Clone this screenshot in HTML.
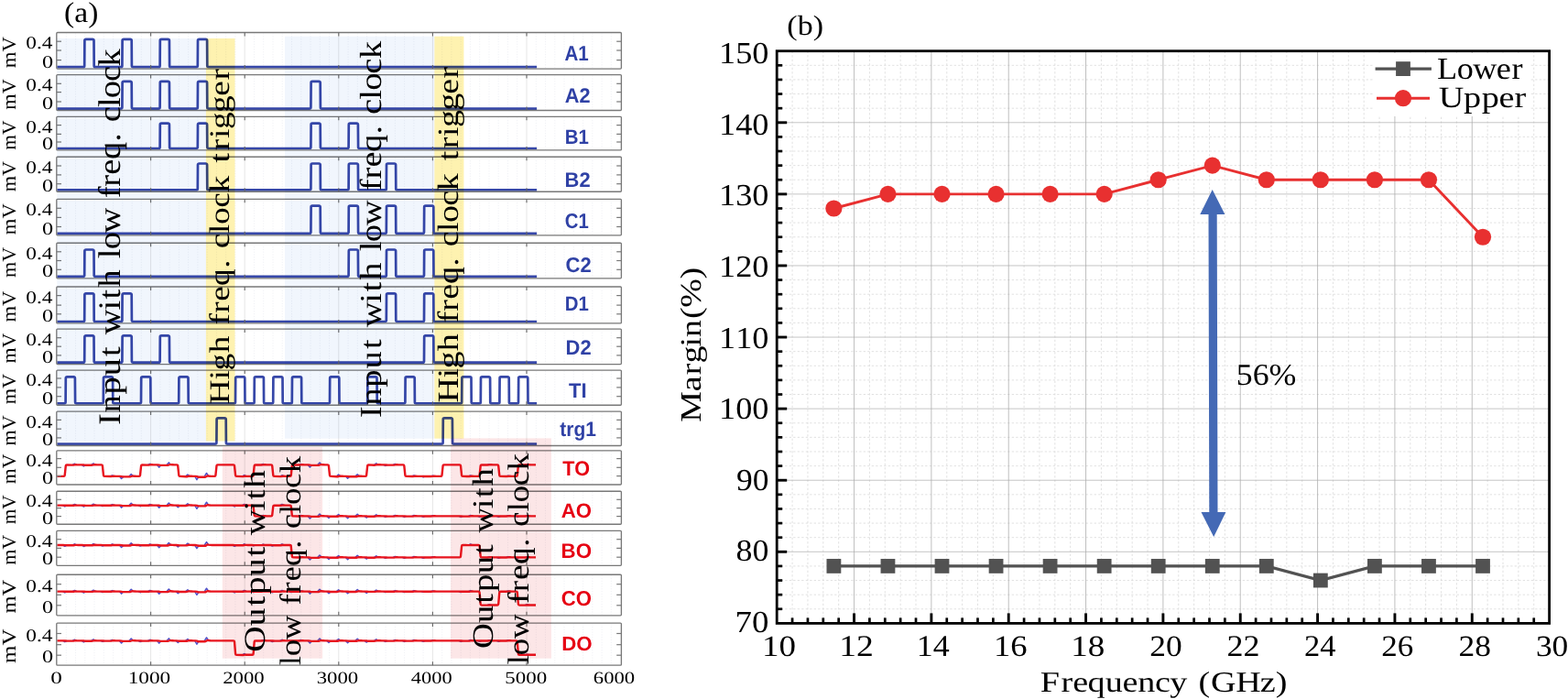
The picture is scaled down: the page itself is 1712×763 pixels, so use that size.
<!DOCTYPE html>
<html><head><meta charset="utf-8"><title>Figure</title>
<style>html,body{margin:0;padding:0;background:#fff}svg{display:block}text{font-kerning:none;white-space:pre;text-rendering:geometricPrecision}</style>
</head><body>
<svg width="1712" height="763" viewBox="0 0 1712 763">
<rect width="1712" height="763" fill="#fff"/>
<rect x="61.80" y="35.50" width="616.60" height="39.60" fill="#fff" />
<path d="M72.3,36.5V74.1M82.5,36.5V74.1M92.8,36.5V74.1M103.0,36.5V74.1M113.3,36.5V74.1M123.6,36.5V74.1M133.8,36.5V74.1M144.1,36.5V74.1M154.3,36.5V74.1M174.9,36.5V74.1M185.1,36.5V74.1M195.4,36.5V74.1M205.6,36.5V74.1M215.9,36.5V74.1M226.2,36.5V74.1M236.4,36.5V74.1M246.7,36.5V74.1M256.9,36.5V74.1M277.5,36.5V74.1M287.7,36.5V74.1M298.0,36.5V74.1M308.2,36.5V74.1M318.5,36.5V74.1M328.8,36.5V74.1M339.0,36.5V74.1M349.3,36.5V74.1M359.5,36.5V74.1M380.1,36.5V74.1M390.3,36.5V74.1M400.6,36.5V74.1M410.8,36.5V74.1M421.1,36.5V74.1M431.4,36.5V74.1M441.6,36.5V74.1M451.9,36.5V74.1M462.1,36.5V74.1M482.7,36.5V74.1M492.9,36.5V74.1M503.2,36.5V74.1M513.4,36.5V74.1M523.7,36.5V74.1M534.0,36.5V74.1M544.2,36.5V74.1M554.5,36.5V74.1M564.7,36.5V74.1M585.3,36.5V74.1M595.5,36.5V74.1M605.8,36.5V74.1M616.0,36.5V74.1M626.3,36.5V74.1M636.6,36.5V74.1M646.8,36.5V74.1M657.1,36.5V74.1M667.3,36.5V74.1" stroke="#eceef3" stroke-width="0.8" stroke-dasharray="1.2 1.6" fill="none"/>
<path d="M164.6,36.5V74.1M267.2,36.5V74.1M369.8,36.5V74.1M472.4,36.5V74.1M575.0,36.5V74.1" stroke="#e6e6e6" stroke-width="1" fill="none"/>
<rect x="61.80" y="81.60" width="616.60" height="38.90" fill="#fff" />
<path d="M72.3,82.6V119.5M82.5,82.6V119.5M92.8,82.6V119.5M103.0,82.6V119.5M113.3,82.6V119.5M123.6,82.6V119.5M133.8,82.6V119.5M144.1,82.6V119.5M154.3,82.6V119.5M174.9,82.6V119.5M185.1,82.6V119.5M195.4,82.6V119.5M205.6,82.6V119.5M215.9,82.6V119.5M226.2,82.6V119.5M236.4,82.6V119.5M246.7,82.6V119.5M256.9,82.6V119.5M277.5,82.6V119.5M287.7,82.6V119.5M298.0,82.6V119.5M308.2,82.6V119.5M318.5,82.6V119.5M328.8,82.6V119.5M339.0,82.6V119.5M349.3,82.6V119.5M359.5,82.6V119.5M380.1,82.6V119.5M390.3,82.6V119.5M400.6,82.6V119.5M410.8,82.6V119.5M421.1,82.6V119.5M431.4,82.6V119.5M441.6,82.6V119.5M451.9,82.6V119.5M462.1,82.6V119.5M482.7,82.6V119.5M492.9,82.6V119.5M503.2,82.6V119.5M513.4,82.6V119.5M523.7,82.6V119.5M534.0,82.6V119.5M544.2,82.6V119.5M554.5,82.6V119.5M564.7,82.6V119.5M585.3,82.6V119.5M595.5,82.6V119.5M605.8,82.6V119.5M616.0,82.6V119.5M626.3,82.6V119.5M636.6,82.6V119.5M646.8,82.6V119.5M657.1,82.6V119.5M667.3,82.6V119.5" stroke="#eceef3" stroke-width="0.8" stroke-dasharray="1.2 1.6" fill="none"/>
<path d="M164.6,82.6V119.5M267.2,82.6V119.5M369.8,82.6V119.5M472.4,82.6V119.5M575.0,82.6V119.5" stroke="#e6e6e6" stroke-width="1" fill="none"/>
<rect x="61.80" y="127.30" width="616.60" height="36.60" fill="#fff" />
<path d="M72.3,128.3V162.9M82.5,128.3V162.9M92.8,128.3V162.9M103.0,128.3V162.9M113.3,128.3V162.9M123.6,128.3V162.9M133.8,128.3V162.9M144.1,128.3V162.9M154.3,128.3V162.9M174.9,128.3V162.9M185.1,128.3V162.9M195.4,128.3V162.9M205.6,128.3V162.9M215.9,128.3V162.9M226.2,128.3V162.9M236.4,128.3V162.9M246.7,128.3V162.9M256.9,128.3V162.9M277.5,128.3V162.9M287.7,128.3V162.9M298.0,128.3V162.9M308.2,128.3V162.9M318.5,128.3V162.9M328.8,128.3V162.9M339.0,128.3V162.9M349.3,128.3V162.9M359.5,128.3V162.9M380.1,128.3V162.9M390.3,128.3V162.9M400.6,128.3V162.9M410.8,128.3V162.9M421.1,128.3V162.9M431.4,128.3V162.9M441.6,128.3V162.9M451.9,128.3V162.9M462.1,128.3V162.9M482.7,128.3V162.9M492.9,128.3V162.9M503.2,128.3V162.9M513.4,128.3V162.9M523.7,128.3V162.9M534.0,128.3V162.9M544.2,128.3V162.9M554.5,128.3V162.9M564.7,128.3V162.9M585.3,128.3V162.9M595.5,128.3V162.9M605.8,128.3V162.9M616.0,128.3V162.9M626.3,128.3V162.9M636.6,128.3V162.9M646.8,128.3V162.9M657.1,128.3V162.9M667.3,128.3V162.9" stroke="#eceef3" stroke-width="0.8" stroke-dasharray="1.2 1.6" fill="none"/>
<path d="M164.6,128.3V162.9M267.2,128.3V162.9M369.8,128.3V162.9M472.4,128.3V162.9M575.0,128.3V162.9" stroke="#e6e6e6" stroke-width="1" fill="none"/>
<rect x="61.80" y="171.20" width="616.60" height="38.10" fill="#fff" />
<path d="M72.3,172.2V208.3M82.5,172.2V208.3M92.8,172.2V208.3M103.0,172.2V208.3M113.3,172.2V208.3M123.6,172.2V208.3M133.8,172.2V208.3M144.1,172.2V208.3M154.3,172.2V208.3M174.9,172.2V208.3M185.1,172.2V208.3M195.4,172.2V208.3M205.6,172.2V208.3M215.9,172.2V208.3M226.2,172.2V208.3M236.4,172.2V208.3M246.7,172.2V208.3M256.9,172.2V208.3M277.5,172.2V208.3M287.7,172.2V208.3M298.0,172.2V208.3M308.2,172.2V208.3M318.5,172.2V208.3M328.8,172.2V208.3M339.0,172.2V208.3M349.3,172.2V208.3M359.5,172.2V208.3M380.1,172.2V208.3M390.3,172.2V208.3M400.6,172.2V208.3M410.8,172.2V208.3M421.1,172.2V208.3M431.4,172.2V208.3M441.6,172.2V208.3M451.9,172.2V208.3M462.1,172.2V208.3M482.7,172.2V208.3M492.9,172.2V208.3M503.2,172.2V208.3M513.4,172.2V208.3M523.7,172.2V208.3M534.0,172.2V208.3M544.2,172.2V208.3M554.5,172.2V208.3M564.7,172.2V208.3M585.3,172.2V208.3M595.5,172.2V208.3M605.8,172.2V208.3M616.0,172.2V208.3M626.3,172.2V208.3M636.6,172.2V208.3M646.8,172.2V208.3M657.1,172.2V208.3M667.3,172.2V208.3" stroke="#eceef3" stroke-width="0.8" stroke-dasharray="1.2 1.6" fill="none"/>
<path d="M164.6,172.2V208.3M267.2,172.2V208.3M369.8,172.2V208.3M472.4,172.2V208.3M575.0,172.2V208.3" stroke="#e6e6e6" stroke-width="1" fill="none"/>
<rect x="61.80" y="217.30" width="616.60" height="39.50" fill="#fff" />
<path d="M72.3,218.3V255.8M82.5,218.3V255.8M92.8,218.3V255.8M103.0,218.3V255.8M113.3,218.3V255.8M123.6,218.3V255.8M133.8,218.3V255.8M144.1,218.3V255.8M154.3,218.3V255.8M174.9,218.3V255.8M185.1,218.3V255.8M195.4,218.3V255.8M205.6,218.3V255.8M215.9,218.3V255.8M226.2,218.3V255.8M236.4,218.3V255.8M246.7,218.3V255.8M256.9,218.3V255.8M277.5,218.3V255.8M287.7,218.3V255.8M298.0,218.3V255.8M308.2,218.3V255.8M318.5,218.3V255.8M328.8,218.3V255.8M339.0,218.3V255.8M349.3,218.3V255.8M359.5,218.3V255.8M380.1,218.3V255.8M390.3,218.3V255.8M400.6,218.3V255.8M410.8,218.3V255.8M421.1,218.3V255.8M431.4,218.3V255.8M441.6,218.3V255.8M451.9,218.3V255.8M462.1,218.3V255.8M482.7,218.3V255.8M492.9,218.3V255.8M503.2,218.3V255.8M513.4,218.3V255.8M523.7,218.3V255.8M534.0,218.3V255.8M544.2,218.3V255.8M554.5,218.3V255.8M564.7,218.3V255.8M585.3,218.3V255.8M595.5,218.3V255.8M605.8,218.3V255.8M616.0,218.3V255.8M626.3,218.3V255.8M636.6,218.3V255.8M646.8,218.3V255.8M657.1,218.3V255.8M667.3,218.3V255.8" stroke="#eceef3" stroke-width="0.8" stroke-dasharray="1.2 1.6" fill="none"/>
<path d="M164.6,218.3V255.8M267.2,218.3V255.8M369.8,218.3V255.8M472.4,218.3V255.8M575.0,218.3V255.8" stroke="#e6e6e6" stroke-width="1" fill="none"/>
<rect x="61.80" y="265.20" width="616.60" height="38.60" fill="#fff" />
<path d="M72.3,266.2V302.8M82.5,266.2V302.8M92.8,266.2V302.8M103.0,266.2V302.8M113.3,266.2V302.8M123.6,266.2V302.8M133.8,266.2V302.8M144.1,266.2V302.8M154.3,266.2V302.8M174.9,266.2V302.8M185.1,266.2V302.8M195.4,266.2V302.8M205.6,266.2V302.8M215.9,266.2V302.8M226.2,266.2V302.8M236.4,266.2V302.8M246.7,266.2V302.8M256.9,266.2V302.8M277.5,266.2V302.8M287.7,266.2V302.8M298.0,266.2V302.8M308.2,266.2V302.8M318.5,266.2V302.8M328.8,266.2V302.8M339.0,266.2V302.8M349.3,266.2V302.8M359.5,266.2V302.8M380.1,266.2V302.8M390.3,266.2V302.8M400.6,266.2V302.8M410.8,266.2V302.8M421.1,266.2V302.8M431.4,266.2V302.8M441.6,266.2V302.8M451.9,266.2V302.8M462.1,266.2V302.8M482.7,266.2V302.8M492.9,266.2V302.8M503.2,266.2V302.8M513.4,266.2V302.8M523.7,266.2V302.8M534.0,266.2V302.8M544.2,266.2V302.8M554.5,266.2V302.8M564.7,266.2V302.8M585.3,266.2V302.8M595.5,266.2V302.8M605.8,266.2V302.8M616.0,266.2V302.8M626.3,266.2V302.8M636.6,266.2V302.8M646.8,266.2V302.8M657.1,266.2V302.8M667.3,266.2V302.8" stroke="#eceef3" stroke-width="0.8" stroke-dasharray="1.2 1.6" fill="none"/>
<path d="M164.6,266.2V302.8M267.2,266.2V302.8M369.8,266.2V302.8M472.4,266.2V302.8M575.0,266.2V302.8" stroke="#e6e6e6" stroke-width="1" fill="none"/>
<rect x="61.80" y="313.00" width="616.60" height="39.90" fill="#fff" />
<path d="M72.3,314.0V351.9M82.5,314.0V351.9M92.8,314.0V351.9M103.0,314.0V351.9M113.3,314.0V351.9M123.6,314.0V351.9M133.8,314.0V351.9M144.1,314.0V351.9M154.3,314.0V351.9M174.9,314.0V351.9M185.1,314.0V351.9M195.4,314.0V351.9M205.6,314.0V351.9M215.9,314.0V351.9M226.2,314.0V351.9M236.4,314.0V351.9M246.7,314.0V351.9M256.9,314.0V351.9M277.5,314.0V351.9M287.7,314.0V351.9M298.0,314.0V351.9M308.2,314.0V351.9M318.5,314.0V351.9M328.8,314.0V351.9M339.0,314.0V351.9M349.3,314.0V351.9M359.5,314.0V351.9M380.1,314.0V351.9M390.3,314.0V351.9M400.6,314.0V351.9M410.8,314.0V351.9M421.1,314.0V351.9M431.4,314.0V351.9M441.6,314.0V351.9M451.9,314.0V351.9M462.1,314.0V351.9M482.7,314.0V351.9M492.9,314.0V351.9M503.2,314.0V351.9M513.4,314.0V351.9M523.7,314.0V351.9M534.0,314.0V351.9M544.2,314.0V351.9M554.5,314.0V351.9M564.7,314.0V351.9M585.3,314.0V351.9M595.5,314.0V351.9M605.8,314.0V351.9M616.0,314.0V351.9M626.3,314.0V351.9M636.6,314.0V351.9M646.8,314.0V351.9M657.1,314.0V351.9M667.3,314.0V351.9" stroke="#eceef3" stroke-width="0.8" stroke-dasharray="1.2 1.6" fill="none"/>
<path d="M164.6,314.0V351.9M267.2,314.0V351.9M369.8,314.0V351.9M472.4,314.0V351.9M575.0,314.0V351.9" stroke="#e6e6e6" stroke-width="1" fill="none"/>
<rect x="61.80" y="359.10" width="616.60" height="38.50" fill="#fff" />
<path d="M72.3,360.1V396.6M82.5,360.1V396.6M92.8,360.1V396.6M103.0,360.1V396.6M113.3,360.1V396.6M123.6,360.1V396.6M133.8,360.1V396.6M144.1,360.1V396.6M154.3,360.1V396.6M174.9,360.1V396.6M185.1,360.1V396.6M195.4,360.1V396.6M205.6,360.1V396.6M215.9,360.1V396.6M226.2,360.1V396.6M236.4,360.1V396.6M246.7,360.1V396.6M256.9,360.1V396.6M277.5,360.1V396.6M287.7,360.1V396.6M298.0,360.1V396.6M308.2,360.1V396.6M318.5,360.1V396.6M328.8,360.1V396.6M339.0,360.1V396.6M349.3,360.1V396.6M359.5,360.1V396.6M380.1,360.1V396.6M390.3,360.1V396.6M400.6,360.1V396.6M410.8,360.1V396.6M421.1,360.1V396.6M431.4,360.1V396.6M441.6,360.1V396.6M451.9,360.1V396.6M462.1,360.1V396.6M482.7,360.1V396.6M492.9,360.1V396.6M503.2,360.1V396.6M513.4,360.1V396.6M523.7,360.1V396.6M534.0,360.1V396.6M544.2,360.1V396.6M554.5,360.1V396.6M564.7,360.1V396.6M585.3,360.1V396.6M595.5,360.1V396.6M605.8,360.1V396.6M616.0,360.1V396.6M626.3,360.1V396.6M636.6,360.1V396.6M646.8,360.1V396.6M657.1,360.1V396.6M667.3,360.1V396.6" stroke="#eceef3" stroke-width="0.8" stroke-dasharray="1.2 1.6" fill="none"/>
<path d="M164.6,360.1V396.6M267.2,360.1V396.6M369.8,360.1V396.6M472.4,360.1V396.6M575.0,360.1V396.6" stroke="#e6e6e6" stroke-width="1" fill="none"/>
<rect x="61.80" y="404.10" width="616.60" height="38.10" fill="#fff" />
<path d="M72.3,405.1V441.2M82.5,405.1V441.2M92.8,405.1V441.2M103.0,405.1V441.2M113.3,405.1V441.2M123.6,405.1V441.2M133.8,405.1V441.2M144.1,405.1V441.2M154.3,405.1V441.2M174.9,405.1V441.2M185.1,405.1V441.2M195.4,405.1V441.2M205.6,405.1V441.2M215.9,405.1V441.2M226.2,405.1V441.2M236.4,405.1V441.2M246.7,405.1V441.2M256.9,405.1V441.2M277.5,405.1V441.2M287.7,405.1V441.2M298.0,405.1V441.2M308.2,405.1V441.2M318.5,405.1V441.2M328.8,405.1V441.2M339.0,405.1V441.2M349.3,405.1V441.2M359.5,405.1V441.2M380.1,405.1V441.2M390.3,405.1V441.2M400.6,405.1V441.2M410.8,405.1V441.2M421.1,405.1V441.2M431.4,405.1V441.2M441.6,405.1V441.2M451.9,405.1V441.2M462.1,405.1V441.2M482.7,405.1V441.2M492.9,405.1V441.2M503.2,405.1V441.2M513.4,405.1V441.2M523.7,405.1V441.2M534.0,405.1V441.2M544.2,405.1V441.2M554.5,405.1V441.2M564.7,405.1V441.2M585.3,405.1V441.2M595.5,405.1V441.2M605.8,405.1V441.2M616.0,405.1V441.2M626.3,405.1V441.2M636.6,405.1V441.2M646.8,405.1V441.2M657.1,405.1V441.2M667.3,405.1V441.2" stroke="#eceef3" stroke-width="0.8" stroke-dasharray="1.2 1.6" fill="none"/>
<path d="M164.6,405.1V441.2M267.2,405.1V441.2M369.8,405.1V441.2M472.4,405.1V441.2M575.0,405.1V441.2" stroke="#e6e6e6" stroke-width="1" fill="none"/>
<rect x="61.80" y="449.10" width="616.60" height="37.40" fill="#fff" />
<path d="M72.3,450.1V485.5M82.5,450.1V485.5M92.8,450.1V485.5M103.0,450.1V485.5M113.3,450.1V485.5M123.6,450.1V485.5M133.8,450.1V485.5M144.1,450.1V485.5M154.3,450.1V485.5M174.9,450.1V485.5M185.1,450.1V485.5M195.4,450.1V485.5M205.6,450.1V485.5M215.9,450.1V485.5M226.2,450.1V485.5M236.4,450.1V485.5M246.7,450.1V485.5M256.9,450.1V485.5M277.5,450.1V485.5M287.7,450.1V485.5M298.0,450.1V485.5M308.2,450.1V485.5M318.5,450.1V485.5M328.8,450.1V485.5M339.0,450.1V485.5M349.3,450.1V485.5M359.5,450.1V485.5M380.1,450.1V485.5M390.3,450.1V485.5M400.6,450.1V485.5M410.8,450.1V485.5M421.1,450.1V485.5M431.4,450.1V485.5M441.6,450.1V485.5M451.9,450.1V485.5M462.1,450.1V485.5M482.7,450.1V485.5M492.9,450.1V485.5M503.2,450.1V485.5M513.4,450.1V485.5M523.7,450.1V485.5M534.0,450.1V485.5M544.2,450.1V485.5M554.5,450.1V485.5M564.7,450.1V485.5M585.3,450.1V485.5M595.5,450.1V485.5M605.8,450.1V485.5M616.0,450.1V485.5M626.3,450.1V485.5M636.6,450.1V485.5M646.8,450.1V485.5M657.1,450.1V485.5M667.3,450.1V485.5" stroke="#eceef3" stroke-width="0.8" stroke-dasharray="1.2 1.6" fill="none"/>
<path d="M164.6,450.1V485.5M267.2,450.1V485.5M369.8,450.1V485.5M472.4,450.1V485.5M575.0,450.1V485.5" stroke="#e6e6e6" stroke-width="1" fill="none"/>
<rect x="61.80" y="491.80" width="616.60" height="37.20" fill="#fff" />
<path d="M72.3,492.8V528.0M82.5,492.8V528.0M92.8,492.8V528.0M103.0,492.8V528.0M113.3,492.8V528.0M123.6,492.8V528.0M133.8,492.8V528.0M144.1,492.8V528.0M154.3,492.8V528.0M174.9,492.8V528.0M185.1,492.8V528.0M195.4,492.8V528.0M205.6,492.8V528.0M215.9,492.8V528.0M226.2,492.8V528.0M236.4,492.8V528.0M246.7,492.8V528.0M256.9,492.8V528.0M277.5,492.8V528.0M287.7,492.8V528.0M298.0,492.8V528.0M308.2,492.8V528.0M318.5,492.8V528.0M328.8,492.8V528.0M339.0,492.8V528.0M349.3,492.8V528.0M359.5,492.8V528.0M380.1,492.8V528.0M390.3,492.8V528.0M400.6,492.8V528.0M410.8,492.8V528.0M421.1,492.8V528.0M431.4,492.8V528.0M441.6,492.8V528.0M451.9,492.8V528.0M462.1,492.8V528.0M482.7,492.8V528.0M492.9,492.8V528.0M503.2,492.8V528.0M513.4,492.8V528.0M523.7,492.8V528.0M534.0,492.8V528.0M544.2,492.8V528.0M554.5,492.8V528.0M564.7,492.8V528.0M585.3,492.8V528.0M595.5,492.8V528.0M605.8,492.8V528.0M616.0,492.8V528.0M626.3,492.8V528.0M636.6,492.8V528.0M646.8,492.8V528.0M657.1,492.8V528.0M667.3,492.8V528.0" stroke="#eceef3" stroke-width="0.8" stroke-dasharray="1.2 1.6" fill="none"/>
<path d="M164.6,492.8V528.0M267.2,492.8V528.0M369.8,492.8V528.0M472.4,492.8V528.0M575.0,492.8V528.0" stroke="#e6e6e6" stroke-width="1" fill="none"/>
<rect x="61.80" y="536.20" width="616.60" height="36.00" fill="#fff" />
<path d="M72.3,537.2V571.2M82.5,537.2V571.2M92.8,537.2V571.2M103.0,537.2V571.2M113.3,537.2V571.2M123.6,537.2V571.2M133.8,537.2V571.2M144.1,537.2V571.2M154.3,537.2V571.2M174.9,537.2V571.2M185.1,537.2V571.2M195.4,537.2V571.2M205.6,537.2V571.2M215.9,537.2V571.2M226.2,537.2V571.2M236.4,537.2V571.2M246.7,537.2V571.2M256.9,537.2V571.2M277.5,537.2V571.2M287.7,537.2V571.2M298.0,537.2V571.2M308.2,537.2V571.2M318.5,537.2V571.2M328.8,537.2V571.2M339.0,537.2V571.2M349.3,537.2V571.2M359.5,537.2V571.2M380.1,537.2V571.2M390.3,537.2V571.2M400.6,537.2V571.2M410.8,537.2V571.2M421.1,537.2V571.2M431.4,537.2V571.2M441.6,537.2V571.2M451.9,537.2V571.2M462.1,537.2V571.2M482.7,537.2V571.2M492.9,537.2V571.2M503.2,537.2V571.2M513.4,537.2V571.2M523.7,537.2V571.2M534.0,537.2V571.2M544.2,537.2V571.2M554.5,537.2V571.2M564.7,537.2V571.2M585.3,537.2V571.2M595.5,537.2V571.2M605.8,537.2V571.2M616.0,537.2V571.2M626.3,537.2V571.2M636.6,537.2V571.2M646.8,537.2V571.2M657.1,537.2V571.2M667.3,537.2V571.2" stroke="#eceef3" stroke-width="0.8" stroke-dasharray="1.2 1.6" fill="none"/>
<path d="M164.6,537.2V571.2M267.2,537.2V571.2M369.8,537.2V571.2M472.4,537.2V571.2M575.0,537.2V571.2" stroke="#e6e6e6" stroke-width="1" fill="none"/>
<rect x="61.80" y="579.40" width="616.60" height="37.90" fill="#fff" />
<path d="M72.3,580.4V616.3M82.5,580.4V616.3M92.8,580.4V616.3M103.0,580.4V616.3M113.3,580.4V616.3M123.6,580.4V616.3M133.8,580.4V616.3M144.1,580.4V616.3M154.3,580.4V616.3M174.9,580.4V616.3M185.1,580.4V616.3M195.4,580.4V616.3M205.6,580.4V616.3M215.9,580.4V616.3M226.2,580.4V616.3M236.4,580.4V616.3M246.7,580.4V616.3M256.9,580.4V616.3M277.5,580.4V616.3M287.7,580.4V616.3M298.0,580.4V616.3M308.2,580.4V616.3M318.5,580.4V616.3M328.8,580.4V616.3M339.0,580.4V616.3M349.3,580.4V616.3M359.5,580.4V616.3M380.1,580.4V616.3M390.3,580.4V616.3M400.6,580.4V616.3M410.8,580.4V616.3M421.1,580.4V616.3M431.4,580.4V616.3M441.6,580.4V616.3M451.9,580.4V616.3M462.1,580.4V616.3M482.7,580.4V616.3M492.9,580.4V616.3M503.2,580.4V616.3M513.4,580.4V616.3M523.7,580.4V616.3M534.0,580.4V616.3M544.2,580.4V616.3M554.5,580.4V616.3M564.7,580.4V616.3M585.3,580.4V616.3M595.5,580.4V616.3M605.8,580.4V616.3M616.0,580.4V616.3M626.3,580.4V616.3M636.6,580.4V616.3M646.8,580.4V616.3M657.1,580.4V616.3M667.3,580.4V616.3" stroke="#eceef3" stroke-width="0.8" stroke-dasharray="1.2 1.6" fill="none"/>
<path d="M164.6,580.4V616.3M267.2,580.4V616.3M369.8,580.4V616.3M472.4,580.4V616.3M575.0,580.4V616.3" stroke="#e6e6e6" stroke-width="1" fill="none"/>
<rect x="61.80" y="627.20" width="616.60" height="44.60" fill="#fff" />
<path d="M72.3,628.2V670.8M82.5,628.2V670.8M92.8,628.2V670.8M103.0,628.2V670.8M113.3,628.2V670.8M123.6,628.2V670.8M133.8,628.2V670.8M144.1,628.2V670.8M154.3,628.2V670.8M174.9,628.2V670.8M185.1,628.2V670.8M195.4,628.2V670.8M205.6,628.2V670.8M215.9,628.2V670.8M226.2,628.2V670.8M236.4,628.2V670.8M246.7,628.2V670.8M256.9,628.2V670.8M277.5,628.2V670.8M287.7,628.2V670.8M298.0,628.2V670.8M308.2,628.2V670.8M318.5,628.2V670.8M328.8,628.2V670.8M339.0,628.2V670.8M349.3,628.2V670.8M359.5,628.2V670.8M380.1,628.2V670.8M390.3,628.2V670.8M400.6,628.2V670.8M410.8,628.2V670.8M421.1,628.2V670.8M431.4,628.2V670.8M441.6,628.2V670.8M451.9,628.2V670.8M462.1,628.2V670.8M482.7,628.2V670.8M492.9,628.2V670.8M503.2,628.2V670.8M513.4,628.2V670.8M523.7,628.2V670.8M534.0,628.2V670.8M544.2,628.2V670.8M554.5,628.2V670.8M564.7,628.2V670.8M585.3,628.2V670.8M595.5,628.2V670.8M605.8,628.2V670.8M616.0,628.2V670.8M626.3,628.2V670.8M636.6,628.2V670.8M646.8,628.2V670.8M657.1,628.2V670.8M667.3,628.2V670.8" stroke="#eceef3" stroke-width="0.8" stroke-dasharray="1.2 1.6" fill="none"/>
<path d="M164.6,628.2V670.8M267.2,628.2V670.8M369.8,628.2V670.8M472.4,628.2V670.8M575.0,628.2V670.8" stroke="#e6e6e6" stroke-width="1" fill="none"/>
<rect x="61.80" y="680.10" width="616.60" height="46.10" fill="#fff" />
<path d="M72.3,681.1V725.2M82.5,681.1V725.2M92.8,681.1V725.2M103.0,681.1V725.2M113.3,681.1V725.2M123.6,681.1V725.2M133.8,681.1V725.2M144.1,681.1V725.2M154.3,681.1V725.2M174.9,681.1V725.2M185.1,681.1V725.2M195.4,681.1V725.2M205.6,681.1V725.2M215.9,681.1V725.2M226.2,681.1V725.2M236.4,681.1V725.2M246.7,681.1V725.2M256.9,681.1V725.2M277.5,681.1V725.2M287.7,681.1V725.2M298.0,681.1V725.2M308.2,681.1V725.2M318.5,681.1V725.2M328.8,681.1V725.2M339.0,681.1V725.2M349.3,681.1V725.2M359.5,681.1V725.2M380.1,681.1V725.2M390.3,681.1V725.2M400.6,681.1V725.2M410.8,681.1V725.2M421.1,681.1V725.2M431.4,681.1V725.2M441.6,681.1V725.2M451.9,681.1V725.2M462.1,681.1V725.2M482.7,681.1V725.2M492.9,681.1V725.2M503.2,681.1V725.2M513.4,681.1V725.2M523.7,681.1V725.2M534.0,681.1V725.2M544.2,681.1V725.2M554.5,681.1V725.2M564.7,681.1V725.2M585.3,681.1V725.2M595.5,681.1V725.2M605.8,681.1V725.2M616.0,681.1V725.2M626.3,681.1V725.2M636.6,681.1V725.2M646.8,681.1V725.2M657.1,681.1V725.2M667.3,681.1V725.2" stroke="#eceef3" stroke-width="0.8" stroke-dasharray="1.2 1.6" fill="none"/>
<path d="M164.6,681.1V725.2M267.2,681.1V725.2M369.8,681.1V725.2M472.4,681.1V725.2M575.0,681.1V725.2" stroke="#e6e6e6" stroke-width="1" fill="none"/>
<path d="M62.3,73.2L90.7,73.2Q92.1,73.2 92.2,71.8L92.4,44.2Q92.5,42.8 93.9,42.8L101.0,42.8Q102.4,42.8 102.5,44.2L102.7,71.8Q102.8,73.2 104.2,73.2L131.9,73.2Q133.3,73.2 133.4,71.8L133.6,44.2Q133.7,42.8 135.1,42.8L142.2,42.8Q143.6,42.8 143.7,44.2L143.9,71.8Q143.9,73.2 145.3,73.2L173.1,73.2Q174.5,73.2 174.6,71.8L174.8,44.2Q174.8,42.8 176.2,42.8L183.4,42.8Q184.8,42.8 184.9,44.2L185.1,71.8Q185.2,73.2 186.6,73.2L214.3,73.2Q215.8,73.2 215.8,71.8L216.0,44.2Q216.1,42.8 217.5,42.8L224.6,42.8Q226.0,42.8 226.1,44.2L226.3,71.8Q226.3,73.2 227.8,73.2L586.1,73.2" fill="none" stroke="#3647a8" stroke-width="2.7" stroke-linejoin="round"/>
<path d="M62.3,118.6L131.9,118.6Q133.3,118.6 133.4,117.2L133.6,90.3Q133.7,88.9 135.1,88.9L142.2,88.9Q143.6,88.9 143.7,90.3L143.9,117.2Q143.9,118.6 145.3,118.6L173.1,118.6Q174.5,118.6 174.6,117.2L174.8,90.3Q174.8,88.9 176.2,88.9L183.4,88.9Q184.8,88.9 184.9,90.3L185.1,117.2Q185.2,118.6 186.6,118.6L214.3,118.6Q215.8,118.6 215.8,117.2L216.0,90.3Q216.1,88.9 217.5,88.9L224.6,88.9Q226.0,88.9 226.1,90.3L226.3,117.2Q226.3,118.6 227.8,118.6L337.9,118.6Q339.3,118.6 339.4,117.2L339.6,90.3Q339.6,88.9 341.0,88.9L348.2,88.9Q349.6,88.9 349.7,90.3L349.9,117.2Q349.9,118.6 351.3,118.6L586.1,118.6" fill="none" stroke="#3647a8" stroke-width="2.7" stroke-linejoin="round"/>
<path d="M62.3,162.0L173.1,162.0Q174.5,162.0 174.6,160.6L174.8,136.0Q174.8,134.6 176.2,134.6L183.4,134.6Q184.8,134.6 184.9,136.0L185.1,160.6Q185.2,162.0 186.6,162.0L214.3,162.0Q215.8,162.0 215.8,160.6L216.0,136.0Q216.1,134.6 217.5,134.6L224.6,134.6Q226.0,134.6 226.1,136.0L226.3,160.6Q226.3,162.0 227.8,162.0L337.9,162.0Q339.3,162.0 339.4,160.6L339.6,136.0Q339.6,134.6 341.0,134.6L348.2,134.6Q349.6,134.6 349.7,136.0L349.9,160.6Q349.9,162.0 351.3,162.0L379.1,162.0Q380.5,162.0 380.6,160.6L380.8,136.0Q380.8,134.6 382.2,134.6L389.4,134.6Q390.8,134.6 390.9,136.0L391.1,160.6Q391.1,162.0 392.5,162.0L586.1,162.0" fill="none" stroke="#3647a8" stroke-width="2.7" stroke-linejoin="round"/>
<path d="M62.3,207.4L214.3,207.4Q215.8,207.4 215.8,206.0L216.0,179.9Q216.1,178.5 217.5,178.5L224.6,178.5Q226.0,178.5 226.1,179.9L226.3,206.0Q226.3,207.4 227.8,207.4L337.9,207.4Q339.3,207.4 339.4,206.0L339.6,179.9Q339.6,178.5 341.0,178.5L348.2,178.5Q349.6,178.5 349.7,179.9L349.9,206.0Q349.9,207.4 351.3,207.4L379.1,207.4Q380.5,207.4 380.6,206.0L380.8,179.9Q380.8,178.5 382.2,178.5L389.4,178.5Q390.8,178.5 390.9,179.9L391.1,206.0Q391.1,207.4 392.5,207.4L420.4,207.4Q421.8,207.4 421.8,206.0L422.0,179.9Q422.0,178.5 423.4,178.5L430.6,178.5Q432.0,178.5 432.1,179.9L432.3,206.0Q432.3,207.4 433.7,207.4L586.1,207.4" fill="none" stroke="#3647a8" stroke-width="2.7" stroke-linejoin="round"/>
<path d="M62.3,254.9L337.9,254.9Q339.3,254.9 339.4,253.5L339.6,226.0Q339.6,224.6 341.0,224.6L348.2,224.6Q349.6,224.6 349.7,226.0L349.9,253.5Q349.9,254.9 351.3,254.9L379.1,254.9Q380.5,254.9 380.6,253.5L380.8,226.0Q380.8,224.6 382.2,224.6L389.4,224.6Q390.8,224.6 390.9,226.0L391.1,253.5Q391.1,254.9 392.5,254.9L420.4,254.9Q421.8,254.9 421.8,253.5L422.0,226.0Q422.0,224.6 423.4,224.6L430.6,224.6Q432.0,224.6 432.1,226.0L432.3,253.5Q432.3,254.9 433.7,254.9L461.6,254.9Q462.9,254.9 463.0,253.5L463.2,226.0Q463.2,224.6 464.6,224.6L471.9,224.6Q473.2,224.6 473.3,226.0L473.5,253.5Q473.5,254.9 474.9,254.9L586.1,254.9" fill="none" stroke="#3647a8" stroke-width="2.7" stroke-linejoin="round"/>
<path d="M62.3,301.9L90.7,301.9Q92.1,301.9 92.2,300.5L92.4,273.9Q92.5,272.5 93.9,272.5L101.0,272.5Q102.4,272.5 102.5,273.9L102.7,300.5Q102.8,301.9 104.2,301.9L379.1,301.9Q380.5,301.9 380.6,300.5L380.8,273.9Q380.8,272.5 382.2,272.5L389.4,272.5Q390.8,272.5 390.9,273.9L391.1,300.5Q391.1,301.9 392.5,301.9L420.4,301.9Q421.8,301.9 421.8,300.5L422.0,273.9Q422.0,272.5 423.4,272.5L430.6,272.5Q432.0,272.5 432.1,273.9L432.3,300.5Q432.3,301.9 433.7,301.9L461.6,301.9Q462.9,301.9 463.0,300.5L463.2,273.9Q463.2,272.5 464.6,272.5L471.9,272.5Q473.2,272.5 473.3,273.9L473.5,300.5Q473.5,301.9 474.9,301.9L586.1,301.9" fill="none" stroke="#3647a8" stroke-width="2.7" stroke-linejoin="round"/>
<path d="M62.3,351.0L90.7,351.0Q92.1,351.0 92.2,349.6L92.4,321.7Q92.5,320.3 93.9,320.3L101.0,320.3Q102.4,320.3 102.5,321.7L102.7,349.6Q102.8,351.0 104.2,351.0L131.9,351.0Q133.3,351.0 133.4,349.6L133.6,321.7Q133.7,320.3 135.1,320.3L142.2,320.3Q143.6,320.3 143.7,321.7L143.9,349.6Q143.9,351.0 145.3,351.0L420.4,351.0Q421.8,351.0 421.8,349.6L422.0,321.7Q422.0,320.3 423.4,320.3L430.6,320.3Q432.0,320.3 432.1,321.7L432.3,349.6Q432.3,351.0 433.7,351.0L461.6,351.0Q462.9,351.0 463.0,349.6L463.2,321.7Q463.2,320.3 464.6,320.3L471.9,320.3Q473.2,320.3 473.3,321.7L473.5,349.6Q473.5,351.0 474.9,351.0L586.1,351.0" fill="none" stroke="#3647a8" stroke-width="2.7" stroke-linejoin="round"/>
<path d="M62.3,395.7L90.7,395.7Q92.1,395.7 92.2,394.3L92.4,367.8Q92.5,366.4 93.9,366.4L101.0,366.4Q102.4,366.4 102.5,367.8L102.7,394.3Q102.8,395.7 104.2,395.7L131.9,395.7Q133.3,395.7 133.4,394.3L133.6,367.8Q133.7,366.4 135.1,366.4L142.2,366.4Q143.6,366.4 143.7,367.8L143.9,394.3Q143.9,395.7 145.3,395.7L173.1,395.7Q174.5,395.7 174.6,394.3L174.8,367.8Q174.8,366.4 176.2,366.4L183.4,366.4Q184.8,366.4 184.9,367.8L185.1,394.3Q185.2,395.7 186.6,395.7L461.6,395.7Q462.9,395.7 463.0,394.3L463.2,367.8Q463.2,366.4 464.6,366.4L471.9,366.4Q473.2,366.4 473.3,367.8L473.5,394.3Q473.5,395.7 474.9,395.7L586.1,395.7" fill="none" stroke="#3647a8" stroke-width="2.7" stroke-linejoin="round"/>
<path d="M62.3,440.3L70.1,440.3Q71.5,440.3 71.6,438.9L71.8,412.8Q71.9,411.4 73.3,411.4L80.4,411.4Q81.8,411.4 81.9,412.8L82.1,438.9Q82.2,440.3 83.6,440.3L111.3,440.3Q112.8,440.3 112.8,438.9L113.0,412.8Q113.1,411.4 114.5,411.4L121.6,411.4Q123.0,411.4 123.1,412.8L123.3,438.9Q123.3,440.3 124.8,440.3L152.5,440.3Q153.9,440.3 154.0,438.9L154.2,412.8Q154.2,411.4 155.7,411.4L162.8,411.4Q164.2,411.4 164.3,412.8L164.5,438.9Q164.6,440.3 166.0,440.3L193.8,440.3Q195.2,440.3 195.2,438.9L195.4,412.8Q195.5,411.4 196.9,411.4L204.0,411.4Q205.4,411.4 205.5,412.8L205.7,438.9Q205.8,440.3 207.2,440.3L255.5,440.3Q256.9,440.3 257.0,438.9L257.2,412.8Q257.2,411.4 258.6,411.4L265.9,411.4Q267.2,411.4 267.3,412.8L267.5,438.9Q267.5,440.3 268.9,440.3L276.2,440.3Q277.6,440.3 277.6,438.9L277.8,412.8Q277.8,411.4 279.2,411.4L286.5,411.4Q287.9,411.4 287.9,412.8L288.1,438.9Q288.1,440.3 289.5,440.3L296.8,440.3Q298.1,440.3 298.2,438.9L298.4,412.8Q298.4,411.4 299.8,411.4L307.1,411.4Q308.4,411.4 308.5,412.8L308.7,438.9Q308.7,440.3 310.1,440.3L317.4,440.3Q318.8,440.3 318.8,438.9L319.0,412.8Q319.0,411.4 320.4,411.4L327.7,411.4Q329.1,411.4 329.1,412.8L329.3,438.9Q329.3,440.3 330.7,440.3L358.6,440.3Q359.9,440.3 360.0,438.9L360.2,412.8Q360.2,411.4 361.6,411.4L368.9,411.4Q370.2,411.4 370.3,412.8L370.5,438.9Q370.5,440.3 371.9,440.3L399.8,440.3Q401.1,440.3 401.2,438.9L401.4,412.8Q401.4,411.4 402.8,411.4L410.1,411.4Q411.4,411.4 411.5,412.8L411.7,438.9Q411.7,440.3 413.1,440.3L440.9,440.3Q442.3,440.3 442.4,438.9L442.6,412.8Q442.6,411.4 444.0,411.4L451.2,411.4Q452.6,411.4 452.7,412.8L452.9,438.9Q452.9,440.3 454.3,440.3L502.8,440.3Q504.1,440.3 504.2,438.9L504.4,412.8Q504.4,411.4 505.8,411.4L513.1,411.4Q514.5,411.4 514.5,412.8L514.7,438.9Q514.8,440.3 516.1,440.3L523.4,440.3Q524.8,440.3 524.8,438.9L525.0,412.8Q525.0,411.4 526.4,411.4L533.6,411.4Q535.0,411.4 535.1,412.8L535.3,438.9Q535.3,440.3 536.7,440.3L544.0,440.3Q545.4,440.3 545.4,438.9L545.6,412.8Q545.6,411.4 547.0,411.4L554.2,411.4Q555.6,411.4 555.7,412.8L555.9,438.9Q555.9,440.3 557.3,440.3L564.6,440.3Q566.0,440.3 566.0,438.9L566.2,412.8Q566.2,411.4 567.6,411.4L574.9,411.4Q576.2,411.4 576.3,412.8L576.5,438.9Q576.5,440.3 577.9,440.3L586.1,440.3" fill="none" stroke="#3647a8" stroke-width="2.7" stroke-linejoin="round"/>
<path d="M62.3,484.6L234.9,484.6Q236.3,484.6 236.4,483.2L236.6,457.8Q236.7,456.4 238.1,456.4L245.2,456.4Q246.6,456.4 246.7,457.8L246.9,483.2Q246.9,484.6 248.3,484.6L482.1,484.6Q483.5,484.6 483.6,483.2L483.8,457.8Q483.8,456.4 485.2,456.4L492.4,456.4Q493.8,456.4 493.9,457.8L494.1,483.2Q494.1,484.6 495.5,484.6L586.1,484.6" fill="none" stroke="#3647a8" stroke-width="2.7" stroke-linejoin="round"/>
<path d="M79.2,507.4l2.2,-1.2l2.4,1.2M89.2,507.4l2.2,1.5l2.4,-1.5M99.8,507.4l2.2,-1.4l2.4,1.4M120.4,519.9l2.2,-1.0l2.4,1.0M130.4,519.9l2.2,2.5l2.4,-2.5M141.0,519.9l2.2,-2.3l2.4,2.3M161.5,507.4l2.2,-1.1l2.4,1.1M171.5,507.4l2.2,2.7l2.4,-2.7M182.1,507.4l2.2,-2.5l2.4,2.5M202.7,519.9l2.2,-1.8l2.4,1.8M212.7,519.9l2.2,3.7l2.4,-3.7M223.3,519.9l2.2,-3.4l2.4,3.4M264.5,519.9l2.2,-1.2l2.4,1.2M285.1,507.4l2.2,-0.9l2.4,0.9M305.7,519.9l2.2,-1.1l2.4,1.1M326.2,507.4l2.2,-0.9l2.4,0.9M336.2,507.4l2.2,2.5l2.4,-2.5M346.8,507.4l2.2,-2.3l2.4,2.3M367.4,519.9l2.2,-1.8l2.4,1.8M377.4,519.9l2.2,2.2l2.4,-2.2M388.0,519.9l2.2,-2.1l2.4,2.1M408.6,507.4l2.2,-1.6l2.4,1.6M418.6,507.4l2.2,1.0l2.4,-1.0M429.2,507.4l2.2,-1.0l2.4,1.0M449.8,519.9l2.2,-1.0l2.4,1.0M459.8,519.9l2.2,0.8l2.4,-0.8M470.4,519.9l2.2,-0.7l2.4,0.7M511.5,519.9l2.2,-1.0l2.4,1.0M532.1,507.4l2.2,-0.7l2.4,0.7M552.7,519.9l2.2,-0.7l2.4,0.7M573.3,507.4l2.2,-0.7l2.4,0.7" fill="none" stroke="#5050c8" stroke-width="1.5" stroke-linejoin="round"/>
<path d="M62.3,519.9L69.6,519.9Q70.6,519.9 70.7,518.9L71.8,508.4Q71.9,507.4 72.9,507.4L79.4,507.6Q80.4,507.6 81.3,507.4L81.3,507.4Q82.2,507.2 83.2,507.3L85.4,507.4Q86.4,507.4 87.4,507.4L89.7,507.4Q90.7,507.4 91.7,507.5L91.9,507.6Q92.9,507.7 93.9,507.7L100.0,507.7Q101.0,507.7 101.9,507.4L101.9,507.4Q102.8,507.2 103.8,507.2L106.0,507.4Q107.0,507.4 108.0,507.4L110.8,507.4Q111.8,507.4 111.9,508.4L113.0,518.9Q113.1,519.9 114.1,519.9L120.6,520.0Q121.6,520.1 122.5,519.9L122.5,519.9Q123.4,519.8 124.4,519.8L126.6,519.9Q127.6,519.9 128.6,519.9L130.9,519.9Q131.9,519.9 132.8,520.1L133.1,520.2Q134.1,520.4 135.1,520.4L141.2,520.4Q142.2,520.4 143.1,520.0L143.1,520.0Q144.0,519.5 144.9,519.6L147.2,519.8Q148.2,519.9 149.2,519.9L151.9,519.9Q152.9,519.9 153.0,518.9L154.1,508.4Q154.2,507.4 155.2,507.4L161.7,507.6Q162.7,507.6 163.6,507.4L163.6,507.4Q164.5,507.3 165.5,507.3L167.7,507.4Q168.7,507.4 169.7,507.4L172.0,507.4Q173.0,507.4 174.0,507.6L174.3,507.7Q175.2,507.9 176.2,507.9L182.3,507.9Q183.3,507.9 184.2,507.5L184.2,507.5Q185.1,507.0 186.1,507.1L188.3,507.3Q189.3,507.4 190.3,507.4L193.1,507.4Q194.1,507.4 194.2,508.4L195.3,518.9Q195.4,519.9 196.4,519.9L202.9,520.2Q203.9,520.3 204.8,520.0L204.8,520.0Q205.7,519.6 206.7,519.7L208.9,519.8Q209.9,519.9 210.9,519.9L213.2,519.9Q214.2,519.9 215.2,520.2L215.5,520.3Q216.4,520.7 217.4,520.7L223.5,520.7Q224.5,520.7 225.3,520.1L225.5,519.9Q226.3,519.3 227.3,519.5L229.5,519.8Q230.5,519.9 231.5,519.9L234.3,519.9Q235.3,519.9 235.4,518.9L236.5,508.4Q236.6,507.4 237.6,507.4L254.9,507.4Q255.9,507.4 256.0,508.4L257.1,518.9Q257.2,519.9 258.2,519.9L264.7,520.1Q265.7,520.1 266.6,519.9L266.6,519.9Q267.5,519.7 268.5,519.8L270.7,519.9Q271.7,519.9 272.7,519.9L275.5,519.9Q276.5,519.9 276.6,518.9L277.7,508.4Q277.8,507.4 278.8,507.4L285.3,507.5Q286.3,507.5 287.2,507.4L287.2,507.4Q288.1,507.3 289.1,507.3L291.3,507.4Q292.3,507.4 293.3,507.4L296.1,507.4Q297.1,507.4 297.2,508.4L298.3,518.9Q298.4,519.9 299.4,519.9L305.9,520.1Q306.9,520.1 307.8,519.9L307.8,519.9Q308.7,519.8 309.7,519.8L311.9,519.9Q312.9,519.9 313.9,519.9L316.7,519.9Q317.7,519.9 317.8,518.9L318.8,508.4Q319.0,507.4 319.9,507.4L326.4,507.5Q327.4,507.5 328.3,507.4L328.3,507.4Q329.2,507.3 330.2,507.3L332.4,507.4Q333.4,507.4 334.4,507.4L336.7,507.4Q337.7,507.4 338.7,507.6L339.0,507.7Q339.9,507.9 340.9,507.9L347.0,507.9Q348.0,507.9 348.9,507.5L348.9,507.5Q349.8,507.0 350.8,507.1L353.0,507.3Q354.0,507.4 355.0,507.4L357.8,507.4Q358.8,507.4 358.9,508.4L360.0,518.9Q360.1,519.9 361.1,519.9L367.6,520.2Q368.6,520.3 369.5,520.0L369.5,520.0Q370.4,519.6 371.4,519.7L373.6,519.8Q374.6,519.9 375.6,519.9L377.9,519.9Q378.9,519.9 379.9,520.1L380.1,520.1Q381.1,520.3 382.1,520.3L388.2,520.3Q389.2,520.3 390.1,520.0L390.1,520.0Q391.0,519.6 392.0,519.7L394.2,519.8Q395.2,519.9 396.2,519.9L399.0,519.9Q400.0,519.9 400.1,518.9L401.2,508.4Q401.3,507.4 402.3,507.4L408.8,507.7Q409.8,507.7 410.7,507.4L410.7,507.4Q411.6,507.2 412.6,507.2L414.8,507.3Q415.8,507.4 416.8,507.4L419.1,507.4Q420.1,507.4 421.1,507.5L421.3,507.5Q422.3,507.6 423.3,507.6L429.4,507.6Q430.4,507.6 431.3,507.4L431.3,507.4Q432.2,507.3 433.2,507.3L435.4,507.4Q436.4,507.4 437.4,507.4L440.2,507.4Q441.2,507.4 441.3,508.4L442.4,518.9Q442.5,519.9 443.5,519.9L450.0,520.0Q451.0,520.1 451.9,519.9L451.9,519.9Q452.8,519.8 453.8,519.8L456.0,519.9Q457.0,519.9 458.0,519.9L460.3,519.9Q461.3,519.9 462.3,519.9L462.5,520.0Q463.5,520.0 464.5,520.0L470.6,520.0Q471.6,520.0 472.5,519.9L472.5,519.9Q473.4,519.8 474.4,519.8L476.6,519.9Q477.6,519.9 478.6,519.9L481.4,519.9Q482.4,519.9 482.5,518.9L483.6,508.4Q483.7,507.4 484.7,507.4L501.9,507.4Q502.9,507.4 503.0,508.4L504.1,518.9Q504.2,519.9 505.2,519.9L511.7,520.0Q512.7,520.1 513.6,519.9L513.6,519.9Q514.5,519.8 515.5,519.8L517.7,519.9Q518.7,519.9 519.7,519.9L522.5,519.9Q523.5,519.9 523.6,518.9L524.7,508.4Q524.8,507.4 525.8,507.4L532.3,507.5Q533.3,507.5 534.2,507.4L534.2,507.4Q535.1,507.3 536.1,507.3L538.3,507.4Q539.3,507.4 540.3,507.4L543.1,507.4Q544.1,507.4 544.2,508.4L545.3,518.9Q545.4,519.9 546.4,519.9L552.9,520.0Q553.9,520.0 554.8,519.9L554.8,519.9Q555.7,519.8 556.7,519.8L558.9,519.9Q559.9,519.9 560.9,519.9L563.7,519.9Q564.7,519.9 564.8,518.9L565.9,508.4Q566.0,507.4 567.0,507.4L573.5,507.5Q574.5,507.5 575.4,507.4L575.4,507.4Q576.3,507.3 577.3,507.3L579.5,507.4Q580.5,507.4 581.5,507.4L585.0,507.4" fill="none" stroke="#e8141e" stroke-width="2.4" stroke-linejoin="round"/>
<path d="M68.6,551.6l2.2,1.3l2.4,-1.3M79.2,551.6l2.2,-1.2l2.4,1.2M89.2,551.6l2.2,1.5l2.4,-1.5M99.8,551.6l2.2,-1.4l2.4,1.4M109.8,551.6l2.2,1.0l2.4,-1.0M120.4,551.6l2.2,-1.0l2.4,1.0M130.4,551.6l2.2,2.5l2.4,-2.5M141.0,551.6l2.2,-2.3l2.4,2.3M150.9,551.6l2.2,1.1l2.4,-1.1M161.5,551.6l2.2,-1.1l2.4,1.1M171.5,551.6l2.2,2.7l2.4,-2.7M182.1,551.6l2.2,-2.5l2.4,2.5M192.1,551.6l2.2,2.0l2.4,-2.0M202.7,551.6l2.2,-1.8l2.4,1.8M212.7,551.6l2.2,3.7l2.4,-3.7M223.3,551.6l2.2,-3.4l2.4,3.4M253.9,551.6l2.2,1.3l2.4,-1.3M264.5,551.6l2.2,-1.2l2.4,1.2M285.1,563.4l2.2,-0.9l2.4,0.9M305.7,551.6l2.2,-1.1l2.4,1.1M326.2,563.4l2.2,-0.9l2.4,0.9M336.2,563.4l2.2,2.5l2.4,-2.5M346.8,563.4l2.2,-2.3l2.4,2.3M356.8,563.4l2.2,2.0l2.4,-2.0M367.4,563.4l2.2,-1.8l2.4,1.8M377.4,563.4l2.2,2.2l2.4,-2.2M388.0,563.4l2.2,-2.1l2.4,2.1M398.0,563.4l2.2,1.7l2.4,-1.7M408.6,563.4l2.2,-1.6l2.4,1.6M418.6,563.4l2.2,1.0l2.4,-1.0M429.2,563.4l2.2,-1.0l2.4,1.0M439.2,563.4l2.2,1.0l2.4,-1.0M449.8,563.4l2.2,-1.0l2.4,1.0M459.8,563.4l2.2,0.8l2.4,-0.8M470.4,563.4l2.2,-0.7l2.4,0.7M500.9,563.4l2.2,1.0l2.4,-1.0M511.5,563.4l2.2,-1.0l2.4,1.0M521.5,563.4l2.2,0.8l2.4,-0.8M532.1,563.4l2.2,-0.7l2.4,0.7M542.1,563.4l2.2,0.8l2.4,-0.8M552.7,563.4l2.2,-0.7l2.4,0.7M562.7,563.4l2.2,0.8l2.4,-0.8M573.3,563.4l2.2,-0.7l2.4,0.7" fill="none" stroke="#5050c8" stroke-width="1.5" stroke-linejoin="round"/>
<path d="M62.3,551.6L69.1,551.6Q70.1,551.6 71.1,551.7L71.3,551.7Q72.3,551.8 73.3,551.8L79.4,551.8Q80.4,551.8 81.3,551.6L81.3,551.6Q82.2,551.4 83.2,551.5L85.4,551.6Q86.4,551.6 87.4,551.6L89.7,551.6Q90.7,551.6 91.7,551.7L91.9,551.8Q92.9,551.9 93.9,551.9L100.0,551.9Q101.0,551.9 101.9,551.6L101.9,551.6Q102.8,551.4 103.8,551.4L106.0,551.6Q107.0,551.6 108.0,551.6L110.3,551.6Q111.3,551.6 112.3,551.7L112.5,551.7Q113.5,551.8 114.5,551.8L120.6,551.8Q121.6,551.8 122.5,551.6L122.5,551.6Q123.4,551.5 124.4,551.5L126.6,551.6Q127.6,551.6 128.6,551.6L130.9,551.6Q131.9,551.6 132.8,551.8L133.1,551.9Q134.1,552.1 135.1,552.1L141.2,552.1Q142.2,552.1 143.1,551.7L143.1,551.7Q144.0,551.2 144.9,551.3L147.2,551.5Q148.2,551.6 149.2,551.6L151.4,551.6Q152.4,551.6 153.4,551.7L153.6,551.7Q154.6,551.8 155.6,551.8L161.7,551.8Q162.7,551.8 163.6,551.6L163.6,551.6Q164.5,551.5 165.5,551.5L167.7,551.6Q168.7,551.6 169.7,551.6L172.0,551.6Q173.0,551.6 174.0,551.8L174.3,551.9Q175.2,552.1 176.2,552.1L182.3,552.1Q183.3,552.1 184.2,551.7L184.2,551.7Q185.1,551.2 186.1,551.3L188.3,551.5Q189.3,551.6 190.3,551.6L192.6,551.6Q193.6,551.6 194.6,551.8L194.8,551.8Q195.8,552.0 196.8,552.0L202.9,552.0Q203.9,552.0 204.8,551.7L204.8,551.7Q205.7,551.3 206.7,551.4L208.9,551.5Q209.9,551.6 210.9,551.6L213.2,551.6Q214.2,551.6 215.2,551.9L215.5,552.0Q216.4,552.4 217.4,552.4L223.5,552.4Q224.5,552.4 225.3,551.8L225.5,551.6Q226.3,551.0 227.3,551.2L229.5,551.5Q230.5,551.6 231.5,551.6L254.4,551.6Q255.4,551.6 256.4,551.7L256.6,551.7Q257.6,551.8 258.6,551.8L264.7,551.8Q265.7,551.8 266.6,551.6L266.6,551.6Q267.5,551.4 268.5,551.5L270.7,551.6Q271.7,551.6 272.7,551.6L275.5,551.6Q276.5,551.6 276.6,552.6L277.7,562.4Q277.8,563.4 278.8,563.4L285.3,563.5Q286.3,563.5 287.2,563.4L287.2,563.4Q288.1,563.3 289.1,563.3L291.3,563.4Q292.3,563.4 293.3,563.4L296.1,563.4Q297.1,563.4 297.2,562.4L298.3,552.6Q298.4,551.6 299.4,551.6L305.9,551.8Q306.9,551.8 307.8,551.6L307.8,551.6Q308.7,551.5 309.7,551.5L311.9,551.6Q312.9,551.6 313.9,551.6L316.7,551.6Q317.7,551.6 317.8,552.6L318.8,562.4Q319.0,563.4 319.9,563.4L326.4,563.5Q327.4,563.5 328.3,563.4L328.3,563.4Q329.2,563.3 330.2,563.3L332.4,563.4Q333.4,563.4 334.4,563.4L336.7,563.4Q337.7,563.4 338.7,563.6L339.0,563.7Q339.9,563.9 340.9,563.9L347.0,563.9Q348.0,563.9 348.9,563.5L348.9,563.5Q349.8,563.0 350.8,563.1L353.0,563.3Q354.0,563.4 355.0,563.4L357.3,563.4Q358.3,563.4 359.3,563.6L359.5,563.6Q360.5,563.8 361.5,563.8L367.6,563.8Q368.6,563.8 369.5,563.5L369.5,563.5Q370.4,563.1 371.4,563.2L373.6,563.3Q374.6,563.4 375.6,563.4L377.9,563.4Q378.9,563.4 379.9,563.6L380.1,563.6Q381.1,563.8 382.1,563.8L388.2,563.8Q389.2,563.8 390.1,563.5L390.1,563.5Q391.0,563.1 392.0,563.2L394.2,563.3Q395.2,563.4 396.2,563.4L398.5,563.4Q399.5,563.4 400.5,563.5L400.7,563.6Q401.7,563.7 402.7,563.7L408.8,563.7Q409.8,563.7 410.7,563.4L410.7,563.4Q411.6,563.2 412.6,563.2L414.8,563.3Q415.8,563.4 416.8,563.4L419.1,563.4Q420.1,563.4 421.1,563.5L421.3,563.5Q422.3,563.6 423.3,563.6L429.4,563.6Q430.4,563.6 431.3,563.4L431.3,563.4Q432.2,563.3 433.2,563.3L435.4,563.4Q436.4,563.4 437.4,563.4L439.7,563.4Q440.7,563.4 441.7,563.5L441.9,563.5Q442.9,563.6 443.9,563.6L450.0,563.6Q451.0,563.6 451.9,563.4L451.9,563.4Q452.8,563.3 453.8,563.3L456.0,563.4Q457.0,563.4 458.0,563.4L460.3,563.4Q461.3,563.4 462.3,563.4L462.5,563.5Q463.5,563.5 464.5,563.5L470.6,563.5Q471.6,563.5 472.5,563.4L472.5,563.4Q473.4,563.3 474.4,563.3L476.6,563.4Q477.6,563.4 478.6,563.4L501.4,563.4Q502.4,563.4 503.4,563.5L503.6,563.5Q504.6,563.6 505.6,563.6L511.7,563.6Q512.7,563.6 513.6,563.4L513.6,563.4Q514.5,563.3 515.5,563.3L517.7,563.4Q518.7,563.4 519.7,563.4L522.0,563.4Q523.0,563.4 524.0,563.4L524.2,563.5Q525.2,563.5 526.2,563.5L532.3,563.5Q533.3,563.5 534.2,563.4L534.2,563.4Q535.1,563.3 536.1,563.3L538.3,563.4Q539.3,563.4 540.3,563.4L542.6,563.4Q543.6,563.4 544.6,563.4L544.8,563.5Q545.8,563.5 546.8,563.5L552.9,563.5Q553.9,563.5 554.8,563.4L554.8,563.4Q555.7,563.3 556.7,563.3L558.9,563.4Q559.9,563.4 560.9,563.4L563.2,563.4Q564.2,563.4 565.2,563.4L565.4,563.5Q566.4,563.5 567.4,563.5L573.5,563.5Q574.5,563.5 575.4,563.4L575.4,563.4Q576.3,563.3 577.3,563.3L579.5,563.4Q580.5,563.4 581.5,563.4L585.0,563.4" fill="none" stroke="#e8141e" stroke-width="2.4" stroke-linejoin="round"/>
<path d="M68.6,595.0l2.2,1.3l2.4,-1.3M79.2,595.0l2.2,-1.2l2.4,1.2M89.2,595.0l2.2,1.5l2.4,-1.5M99.8,595.0l2.2,-1.4l2.4,1.4M109.8,595.0l2.2,1.0l2.4,-1.0M120.4,595.0l2.2,-1.0l2.4,1.0M130.4,595.0l2.2,2.5l2.4,-2.5M141.0,595.0l2.2,-2.3l2.4,2.3M150.9,595.0l2.2,1.1l2.4,-1.1M161.5,595.0l2.2,-1.1l2.4,1.1M171.5,595.0l2.2,2.7l2.4,-2.7M182.1,595.0l2.2,-2.5l2.4,2.5M192.1,595.0l2.2,2.0l2.4,-2.0M202.7,595.0l2.2,-1.8l2.4,1.8M212.7,595.0l2.2,3.7l2.4,-3.7M223.3,595.0l2.2,-3.4l2.4,3.4M253.9,595.0l2.2,1.3l2.4,-1.3M264.5,595.0l2.2,-1.2l2.4,1.2M274.5,595.0l2.2,0.9l2.4,-0.9M285.1,595.0l2.2,-0.9l2.4,0.9M295.1,595.0l2.2,1.1l2.4,-1.1M305.7,595.0l2.2,-1.1l2.4,1.1M326.2,608.4l2.2,-0.9l2.4,0.9M336.2,608.4l2.2,2.5l2.4,-2.5M346.8,608.4l2.2,-2.3l2.4,2.3M356.8,608.4l2.2,2.0l2.4,-2.0M367.4,608.4l2.2,-1.8l2.4,1.8M377.4,608.4l2.2,2.2l2.4,-2.2M388.0,608.4l2.2,-2.1l2.4,2.1M398.0,608.4l2.2,1.7l2.4,-1.7M408.6,608.4l2.2,-1.6l2.4,1.6M418.6,608.4l2.2,1.0l2.4,-1.0M429.2,608.4l2.2,-1.0l2.4,1.0M439.2,608.4l2.2,1.0l2.4,-1.0M449.8,608.4l2.2,-1.0l2.4,1.0M459.8,608.4l2.2,0.8l2.4,-0.8M470.4,608.4l2.2,-0.7l2.4,0.7M511.5,595.0l2.2,-1.0l2.4,1.0M532.1,608.4l2.2,-0.7l2.4,0.7M542.1,608.4l2.2,0.8l2.4,-0.8M552.7,608.4l2.2,-0.7l2.4,0.7M562.7,608.4l2.2,0.8l2.4,-0.8M573.3,608.4l2.2,-0.7l2.4,0.7" fill="none" stroke="#5050c8" stroke-width="1.5" stroke-linejoin="round"/>
<path d="M62.3,595.0L69.1,595.0Q70.1,595.0 71.1,595.1L71.3,595.1Q72.3,595.2 73.3,595.2L79.4,595.2Q80.4,595.2 81.3,595.0L81.3,595.0Q82.2,594.8 83.2,594.9L85.4,595.0Q86.4,595.0 87.4,595.0L89.7,595.0Q90.7,595.0 91.7,595.1L91.9,595.2Q92.9,595.3 93.9,595.3L100.0,595.3Q101.0,595.3 101.9,595.0L101.9,595.0Q102.8,594.8 103.8,594.8L106.0,595.0Q107.0,595.0 108.0,595.0L110.3,595.0Q111.3,595.0 112.3,595.1L112.5,595.1Q113.5,595.2 114.5,595.2L120.6,595.2Q121.6,595.2 122.5,595.0L122.5,595.0Q123.4,594.9 124.4,594.9L126.6,595.0Q127.6,595.0 128.6,595.0L130.9,595.0Q131.9,595.0 132.8,595.2L133.1,595.3Q134.1,595.5 135.1,595.5L141.2,595.5Q142.2,595.5 143.1,595.1L143.1,595.1Q144.0,594.6 144.9,594.7L147.2,594.9Q148.2,595.0 149.2,595.0L151.4,595.0Q152.4,595.0 153.4,595.1L153.6,595.1Q154.6,595.2 155.6,595.2L161.7,595.2Q162.7,595.2 163.6,595.0L163.6,595.0Q164.5,594.9 165.5,594.9L167.7,595.0Q168.7,595.0 169.7,595.0L172.0,595.0Q173.0,595.0 174.0,595.2L174.3,595.3Q175.2,595.5 176.2,595.5L182.3,595.5Q183.3,595.5 184.2,595.1L184.2,595.1Q185.1,594.6 186.1,594.7L188.3,594.9Q189.3,595.0 190.3,595.0L192.6,595.0Q193.6,595.0 194.6,595.2L194.8,595.2Q195.8,595.4 196.8,595.4L202.9,595.4Q203.9,595.4 204.8,595.1L204.8,595.1Q205.7,594.7 206.7,594.8L208.9,594.9Q209.9,595.0 210.9,595.0L213.2,595.0Q214.2,595.0 215.2,595.3L215.5,595.4Q216.4,595.8 217.4,595.8L223.5,595.8Q224.5,595.8 225.3,595.2L225.5,595.0Q226.3,594.4 227.3,594.6L229.5,594.9Q230.5,595.0 231.5,595.0L254.4,595.0Q255.4,595.0 256.4,595.1L256.6,595.1Q257.6,595.2 258.6,595.2L264.7,595.2Q265.7,595.2 266.6,595.0L266.6,595.0Q267.5,594.8 268.5,594.9L270.7,595.0Q271.7,595.0 272.7,595.0L275.0,595.0Q276.0,595.0 277.0,595.1L277.2,595.1Q278.2,595.1 279.2,595.1L285.3,595.1Q286.3,595.1 287.2,595.0L287.2,595.0Q288.1,594.9 289.1,594.9L291.3,595.0Q292.3,595.0 293.3,595.0L295.6,595.0Q296.6,595.0 297.6,595.1L297.8,595.1Q298.8,595.2 299.8,595.2L305.9,595.2Q306.9,595.2 307.8,595.0L307.8,595.0Q308.7,594.9 309.7,594.9L311.9,595.0Q312.9,595.0 313.9,595.0L316.7,595.0Q317.7,595.0 317.7,596.0L318.9,607.4Q319.0,608.4 319.9,608.4L326.4,608.5Q327.4,608.5 328.3,608.4L328.3,608.4Q329.2,608.3 330.2,608.3L332.4,608.4Q333.4,608.4 334.4,608.4L336.7,608.4Q337.7,608.4 338.7,608.6L339.0,608.7Q339.9,608.9 340.9,608.9L347.0,608.9Q348.0,608.9 348.9,608.5L348.9,608.5Q349.8,608.0 350.8,608.1L353.0,608.3Q354.0,608.4 355.0,608.4L357.3,608.4Q358.3,608.4 359.3,608.6L359.5,608.6Q360.5,608.8 361.5,608.8L367.6,608.8Q368.6,608.8 369.5,608.5L369.5,608.5Q370.4,608.1 371.4,608.2L373.6,608.3Q374.6,608.4 375.6,608.4L377.9,608.4Q378.9,608.4 379.9,608.6L380.1,608.6Q381.1,608.8 382.1,608.8L388.2,608.8Q389.2,608.8 390.1,608.5L390.1,608.5Q391.0,608.1 392.0,608.2L394.2,608.3Q395.2,608.4 396.2,608.4L398.5,608.4Q399.5,608.4 400.5,608.5L400.7,608.6Q401.7,608.7 402.7,608.7L408.8,608.7Q409.8,608.7 410.7,608.4L410.7,608.4Q411.6,608.2 412.6,608.2L414.8,608.3Q415.8,608.4 416.8,608.4L419.1,608.4Q420.1,608.4 421.1,608.5L421.3,608.5Q422.3,608.6 423.3,608.6L429.4,608.6Q430.4,608.6 431.3,608.4L431.3,608.4Q432.2,608.3 433.2,608.3L435.4,608.4Q436.4,608.4 437.4,608.4L439.7,608.4Q440.7,608.4 441.7,608.5L441.9,608.5Q442.9,608.6 443.9,608.6L450.0,608.6Q451.0,608.6 451.9,608.4L451.9,608.4Q452.8,608.3 453.8,608.3L456.0,608.4Q457.0,608.4 458.0,608.4L460.3,608.4Q461.3,608.4 462.3,608.4L462.5,608.5Q463.5,608.5 464.5,608.5L470.6,608.5Q471.6,608.5 472.5,608.4L472.5,608.4Q473.4,608.3 474.4,608.3L476.6,608.4Q477.6,608.4 478.6,608.4L501.9,608.4Q502.9,608.4 503.0,607.4L504.1,596.0Q504.2,595.0 505.2,595.0L511.7,595.1Q512.7,595.2 513.6,595.0L513.6,595.0Q514.5,594.9 515.5,594.9L517.7,595.0Q518.7,595.0 519.7,595.0L522.5,595.0Q523.5,595.0 523.6,596.0L524.7,607.4Q524.8,608.4 525.8,608.4L532.3,608.5Q533.3,608.5 534.2,608.4L534.2,608.4Q535.1,608.3 536.1,608.3L538.3,608.4Q539.3,608.4 540.3,608.4L542.6,608.4Q543.6,608.4 544.6,608.4L544.8,608.5Q545.8,608.5 546.8,608.5L552.9,608.5Q553.9,608.5 554.8,608.4L554.8,608.4Q555.7,608.3 556.7,608.3L558.9,608.4Q559.9,608.4 560.9,608.4L563.2,608.4Q564.2,608.4 565.2,608.4L565.4,608.5Q566.4,608.5 567.4,608.5L573.5,608.5Q574.5,608.5 575.4,608.4L575.4,608.4Q576.3,608.3 577.3,608.3L579.5,608.4Q580.5,608.4 581.5,608.4L585.0,608.4" fill="none" stroke="#e8141e" stroke-width="2.4" stroke-linejoin="round"/>
<path d="M68.6,645.6l2.2,1.3l2.4,-1.3M79.2,645.6l2.2,-1.2l2.4,1.2M89.2,645.6l2.2,1.5l2.4,-1.5M99.8,645.6l2.2,-1.4l2.4,1.4M109.8,645.6l2.2,1.0l2.4,-1.0M120.4,645.6l2.2,-1.0l2.4,1.0M130.4,645.6l2.2,2.5l2.4,-2.5M141.0,645.6l2.2,-2.3l2.4,2.3M150.9,645.6l2.2,1.1l2.4,-1.1M161.5,645.6l2.2,-1.1l2.4,1.1M171.5,645.6l2.2,2.7l2.4,-2.7M182.1,645.6l2.2,-2.5l2.4,2.5M192.1,645.6l2.2,2.0l2.4,-2.0M202.7,645.6l2.2,-1.8l2.4,1.8M212.7,645.6l2.2,3.7l2.4,-3.7M223.3,645.6l2.2,-3.4l2.4,3.4M253.9,645.6l2.2,1.3l2.4,-1.3M264.5,645.6l2.2,-1.2l2.4,1.2M274.5,645.6l2.2,0.9l2.4,-0.9M285.1,645.6l2.2,-0.9l2.4,0.9M295.1,645.6l2.2,1.1l2.4,-1.1M305.7,645.6l2.2,-1.1l2.4,1.1M315.7,645.6l2.2,0.9l2.4,-0.9M326.2,645.6l2.2,-0.9l2.4,0.9M336.2,645.6l2.2,2.5l2.4,-2.5M346.8,645.6l2.2,-2.3l2.4,2.3M356.8,645.6l2.2,2.0l2.4,-2.0M367.4,645.6l2.2,-1.8l2.4,1.8M377.4,645.6l2.2,2.2l2.4,-2.2M388.0,645.6l2.2,-2.1l2.4,2.1M398.0,645.6l2.2,1.7l2.4,-1.7M408.6,645.6l2.2,-1.6l2.4,1.6M418.6,645.6l2.2,1.0l2.4,-1.0M429.2,645.6l2.2,-1.0l2.4,1.0M439.2,645.6l2.2,1.0l2.4,-1.0M449.8,645.6l2.2,-1.0l2.4,1.0M459.8,645.6l2.2,0.8l2.4,-0.8M470.4,645.6l2.2,-0.7l2.4,0.7M500.9,645.6l2.2,1.0l2.4,-1.0M511.5,645.6l2.2,-1.0l2.4,1.0M532.1,660.5l2.2,-0.7l2.4,0.7M552.7,645.6l2.2,-0.7l2.4,0.7M573.3,660.5l2.2,-0.7l2.4,0.7" fill="none" stroke="#5050c8" stroke-width="1.5" stroke-linejoin="round"/>
<path d="M62.3,645.6L69.1,645.6Q70.1,645.6 71.1,645.7L71.3,645.7Q72.3,645.8 73.3,645.8L79.4,645.8Q80.4,645.8 81.3,645.6L81.3,645.6Q82.2,645.4 83.2,645.5L85.4,645.6Q86.4,645.6 87.4,645.6L89.7,645.6Q90.7,645.6 91.7,645.7L91.9,645.8Q92.9,645.9 93.9,645.9L100.0,645.9Q101.0,645.9 101.9,645.6L101.9,645.6Q102.8,645.4 103.8,645.4L106.0,645.6Q107.0,645.6 108.0,645.6L110.3,645.6Q111.3,645.6 112.3,645.7L112.5,645.7Q113.5,645.8 114.5,645.8L120.6,645.8Q121.6,645.8 122.5,645.6L122.5,645.6Q123.4,645.5 124.4,645.5L126.6,645.6Q127.6,645.6 128.6,645.6L130.9,645.6Q131.9,645.6 132.8,645.8L133.1,645.9Q134.1,646.1 135.1,646.1L141.2,646.1Q142.2,646.1 143.1,645.7L143.1,645.7Q144.0,645.2 144.9,645.3L147.2,645.5Q148.2,645.6 149.2,645.6L151.4,645.6Q152.4,645.6 153.4,645.7L153.6,645.7Q154.6,645.8 155.6,645.8L161.7,645.8Q162.7,645.8 163.6,645.6L163.6,645.6Q164.5,645.5 165.5,645.5L167.7,645.6Q168.7,645.6 169.7,645.6L172.0,645.6Q173.0,645.6 174.0,645.8L174.3,645.9Q175.2,646.1 176.2,646.1L182.3,646.1Q183.3,646.1 184.2,645.7L184.2,645.7Q185.1,645.2 186.1,645.3L188.3,645.5Q189.3,645.6 190.3,645.6L192.6,645.6Q193.6,645.6 194.6,645.8L194.8,645.8Q195.8,646.0 196.8,646.0L202.9,646.0Q203.9,646.0 204.8,645.7L204.8,645.7Q205.7,645.3 206.7,645.4L208.9,645.5Q209.9,645.6 210.9,645.6L213.2,645.6Q214.2,645.6 215.2,645.9L215.5,646.0Q216.4,646.4 217.4,646.4L223.5,646.4Q224.5,646.4 225.3,645.8L225.5,645.6Q226.3,645.0 227.3,645.2L229.5,645.5Q230.5,645.6 231.5,645.6L254.4,645.6Q255.4,645.6 256.4,645.7L256.6,645.7Q257.6,645.8 258.6,645.8L264.7,645.8Q265.7,645.8 266.6,645.6L266.6,645.6Q267.5,645.4 268.5,645.5L270.7,645.6Q271.7,645.6 272.7,645.6L275.0,645.6Q276.0,645.6 277.0,645.7L277.2,645.7Q278.2,645.7 279.2,645.7L285.3,645.7Q286.3,645.7 287.2,645.6L287.2,645.6Q288.1,645.5 289.1,645.5L291.3,645.6Q292.3,645.6 293.3,645.6L295.6,645.6Q296.6,645.6 297.6,645.7L297.8,645.7Q298.8,645.8 299.8,645.8L305.9,645.8Q306.9,645.8 307.8,645.6L307.8,645.6Q308.7,645.5 309.7,645.5L311.9,645.6Q312.9,645.6 313.9,645.6L316.2,645.6Q317.2,645.6 318.1,645.7L318.4,645.7Q319.4,645.7 320.4,645.7L326.4,645.7Q327.4,645.7 328.3,645.6L328.3,645.6Q329.2,645.5 330.2,645.5L332.4,645.6Q333.4,645.6 334.4,645.6L336.7,645.6Q337.7,645.6 338.7,645.8L339.0,645.9Q339.9,646.1 340.9,646.1L347.0,646.1Q348.0,646.1 348.9,645.7L348.9,645.7Q349.8,645.2 350.8,645.3L353.0,645.5Q354.0,645.6 355.0,645.6L357.3,645.6Q358.3,645.6 359.3,645.8L359.5,645.8Q360.5,646.0 361.5,646.0L367.6,646.0Q368.6,646.0 369.5,645.7L369.5,645.7Q370.4,645.3 371.4,645.4L373.6,645.5Q374.6,645.6 375.6,645.6L377.9,645.6Q378.9,645.6 379.9,645.8L380.1,645.8Q381.1,646.0 382.1,646.0L388.2,646.0Q389.2,646.0 390.1,645.7L390.1,645.7Q391.0,645.3 392.0,645.4L394.2,645.5Q395.2,645.6 396.2,645.6L398.5,645.6Q399.5,645.6 400.5,645.7L400.7,645.8Q401.7,645.9 402.7,645.9L408.8,645.9Q409.8,645.9 410.7,645.6L410.7,645.6Q411.6,645.4 412.6,645.4L414.8,645.5Q415.8,645.6 416.8,645.6L419.1,645.6Q420.1,645.6 421.1,645.7L421.3,645.7Q422.3,645.8 423.3,645.8L429.4,645.8Q430.4,645.8 431.3,645.6L431.3,645.6Q432.2,645.5 433.2,645.5L435.4,645.6Q436.4,645.6 437.4,645.6L439.7,645.6Q440.7,645.6 441.7,645.7L441.9,645.7Q442.9,645.8 443.9,645.8L450.0,645.8Q451.0,645.8 451.9,645.6L451.9,645.6Q452.8,645.5 453.8,645.5L456.0,645.6Q457.0,645.6 458.0,645.6L460.3,645.6Q461.3,645.6 462.3,645.6L462.5,645.7Q463.5,645.7 464.5,645.7L470.6,645.7Q471.6,645.7 472.5,645.6L472.5,645.6Q473.4,645.5 474.4,645.5L476.6,645.6Q477.6,645.6 478.6,645.6L501.4,645.6Q502.4,645.6 503.4,645.7L503.6,645.7Q504.6,645.8 505.6,645.8L511.7,645.8Q512.7,645.8 513.6,645.6L513.6,645.6Q514.5,645.5 515.5,645.5L517.7,645.6Q518.7,645.6 519.7,645.6L522.5,645.6Q523.5,645.6 523.6,646.6L524.7,659.5Q524.8,660.5 525.8,660.5L532.3,660.6Q533.3,660.6 534.2,660.5L534.2,660.5Q535.1,660.4 536.1,660.4L538.3,660.5Q539.3,660.5 540.3,660.5L543.1,660.5Q544.1,660.5 544.2,659.5L545.3,646.6Q545.4,645.6 546.4,645.6L552.9,645.7Q553.9,645.7 554.8,645.6L554.8,645.6Q555.7,645.5 556.7,645.5L558.9,645.6Q559.9,645.6 560.9,645.6L563.7,645.6Q564.7,645.6 564.8,646.6L565.9,659.5Q566.0,660.5 567.0,660.5L573.5,660.6Q574.5,660.6 575.4,660.5L575.4,660.5Q576.3,660.4 577.3,660.4L579.5,660.5Q580.5,660.5 581.5,660.5L585.0,660.5" fill="none" stroke="#e8141e" stroke-width="2.4" stroke-linejoin="round"/>
<path d="M68.6,699.4l2.2,1.3l2.4,-1.3M79.2,699.4l2.2,-1.2l2.4,1.2M89.2,699.4l2.2,1.5l2.4,-1.5M99.8,699.4l2.2,-1.4l2.4,1.4M109.8,699.4l2.2,1.0l2.4,-1.0M120.4,699.4l2.2,-1.0l2.4,1.0M130.4,699.4l2.2,2.5l2.4,-2.5M141.0,699.4l2.2,-2.3l2.4,2.3M150.9,699.4l2.2,1.1l2.4,-1.1M161.5,699.4l2.2,-1.1l2.4,1.1M171.5,699.4l2.2,2.7l2.4,-2.7M182.1,699.4l2.2,-2.5l2.4,2.5M192.1,699.4l2.2,2.0l2.4,-2.0M202.7,699.4l2.2,-1.8l2.4,1.8M212.7,699.4l2.2,3.7l2.4,-3.7M223.3,699.4l2.2,-3.4l2.4,3.4M264.5,714.8l2.2,-1.2l2.4,1.2M285.1,699.4l2.2,-0.9l2.4,0.9M295.1,699.4l2.2,1.1l2.4,-1.1M305.7,699.4l2.2,-1.1l2.4,1.1M315.7,699.4l2.2,0.9l2.4,-0.9M326.2,699.4l2.2,-0.9l2.4,0.9M336.2,699.4l2.2,2.5l2.4,-2.5M346.8,699.4l2.2,-2.3l2.4,2.3M356.8,699.4l2.2,2.0l2.4,-2.0M367.4,699.4l2.2,-1.8l2.4,1.8M377.4,699.4l2.2,2.2l2.4,-2.2M388.0,699.4l2.2,-2.1l2.4,2.1M398.0,699.4l2.2,1.7l2.4,-1.7M408.6,699.4l2.2,-1.6l2.4,1.6M418.6,699.4l2.2,1.0l2.4,-1.0M429.2,699.4l2.2,-1.0l2.4,1.0M439.2,699.4l2.2,1.0l2.4,-1.0M449.8,699.4l2.2,-1.0l2.4,1.0M459.8,699.4l2.2,0.8l2.4,-0.8M470.4,699.4l2.2,-0.7l2.4,0.7M500.9,699.4l2.2,1.0l2.4,-1.0M511.5,699.4l2.2,-1.0l2.4,1.0M521.5,699.4l2.2,0.8l2.4,-0.8M532.1,699.4l2.2,-0.7l2.4,0.7M542.1,699.4l2.2,0.8l2.4,-0.8M552.7,699.4l2.2,-0.7l2.4,0.7M573.3,714.8l2.2,-0.7l2.4,0.7" fill="none" stroke="#5050c8" stroke-width="1.5" stroke-linejoin="round"/>
<path d="M62.3,699.4L69.1,699.4Q70.1,699.4 71.1,699.5L71.3,699.5Q72.3,699.6 73.3,699.6L79.4,699.6Q80.4,699.6 81.3,699.4L81.3,699.4Q82.2,699.2 83.2,699.3L85.4,699.4Q86.4,699.4 87.4,699.4L89.7,699.4Q90.7,699.4 91.7,699.5L91.9,699.6Q92.9,699.7 93.9,699.7L100.0,699.7Q101.0,699.7 101.9,699.4L101.9,699.4Q102.8,699.2 103.8,699.2L106.0,699.4Q107.0,699.4 108.0,699.4L110.3,699.4Q111.3,699.4 112.3,699.5L112.5,699.5Q113.5,699.6 114.5,699.6L120.6,699.6Q121.6,699.6 122.5,699.4L122.5,699.4Q123.4,699.3 124.4,699.3L126.6,699.4Q127.6,699.4 128.6,699.4L130.9,699.4Q131.9,699.4 132.8,699.6L133.1,699.7Q134.1,699.9 135.1,699.9L141.2,699.9Q142.2,699.9 143.1,699.5L143.1,699.5Q144.0,699.0 144.9,699.1L147.2,699.3Q148.2,699.4 149.2,699.4L151.4,699.4Q152.4,699.4 153.4,699.5L153.6,699.5Q154.6,699.6 155.6,699.6L161.7,699.6Q162.7,699.6 163.6,699.4L163.6,699.4Q164.5,699.3 165.5,699.3L167.7,699.4Q168.7,699.4 169.7,699.4L172.0,699.4Q173.0,699.4 174.0,699.6L174.3,699.7Q175.2,699.9 176.2,699.9L182.3,699.9Q183.3,699.9 184.2,699.5L184.2,699.5Q185.1,699.0 186.1,699.1L188.3,699.3Q189.3,699.4 190.3,699.4L192.6,699.4Q193.6,699.4 194.6,699.6L194.8,699.6Q195.8,699.8 196.8,699.8L202.9,699.8Q203.9,699.8 204.8,699.5L204.8,699.5Q205.7,699.1 206.7,699.2L208.9,699.3Q209.9,699.4 210.9,699.4L213.2,699.4Q214.2,699.4 215.2,699.7L215.5,699.8Q216.4,700.2 217.4,700.2L223.5,700.2Q224.5,700.2 225.3,699.6L225.5,699.4Q226.3,698.8 227.3,699.0L229.5,699.3Q230.5,699.4 231.5,699.4L254.9,699.4Q255.9,699.4 256.0,700.4L257.1,713.8Q257.2,714.8 258.2,714.8L264.7,715.0Q265.7,715.0 266.6,714.8L266.6,714.8Q267.5,714.6 268.5,714.7L270.7,714.8Q271.7,714.8 272.7,714.8L275.5,714.8Q276.5,714.8 276.6,713.8L277.7,700.4Q277.8,699.4 278.8,699.4L285.3,699.5Q286.3,699.5 287.2,699.4L287.2,699.4Q288.1,699.3 289.1,699.3L291.3,699.4Q292.3,699.4 293.3,699.4L295.6,699.4Q296.6,699.4 297.6,699.5L297.8,699.5Q298.8,699.6 299.8,699.6L305.9,699.6Q306.9,699.6 307.8,699.4L307.8,699.4Q308.7,699.3 309.7,699.3L311.9,699.4Q312.9,699.4 313.9,699.4L316.2,699.4Q317.2,699.4 318.1,699.5L318.4,699.5Q319.4,699.5 320.4,699.5L326.4,699.5Q327.4,699.5 328.3,699.4L328.3,699.4Q329.2,699.3 330.2,699.3L332.4,699.4Q333.4,699.4 334.4,699.4L336.7,699.4Q337.7,699.4 338.7,699.6L339.0,699.7Q339.9,699.9 340.9,699.9L347.0,699.9Q348.0,699.9 348.9,699.5L348.9,699.5Q349.8,699.0 350.8,699.1L353.0,699.3Q354.0,699.4 355.0,699.4L357.3,699.4Q358.3,699.4 359.3,699.6L359.5,699.6Q360.5,699.8 361.5,699.8L367.6,699.8Q368.6,699.8 369.5,699.5L369.5,699.5Q370.4,699.1 371.4,699.2L373.6,699.3Q374.6,699.4 375.6,699.4L377.9,699.4Q378.9,699.4 379.9,699.6L380.1,699.6Q381.1,699.8 382.1,699.8L388.2,699.8Q389.2,699.8 390.1,699.5L390.1,699.5Q391.0,699.1 392.0,699.2L394.2,699.3Q395.2,699.4 396.2,699.4L398.5,699.4Q399.5,699.4 400.5,699.5L400.7,699.6Q401.7,699.7 402.7,699.7L408.8,699.7Q409.8,699.7 410.7,699.4L410.7,699.4Q411.6,699.2 412.6,699.2L414.8,699.3Q415.8,699.4 416.8,699.4L419.1,699.4Q420.1,699.4 421.1,699.5L421.3,699.5Q422.3,699.6 423.3,699.6L429.4,699.6Q430.4,699.6 431.3,699.4L431.3,699.4Q432.2,699.3 433.2,699.3L435.4,699.4Q436.4,699.4 437.4,699.4L439.7,699.4Q440.7,699.4 441.7,699.5L441.9,699.5Q442.9,699.6 443.9,699.6L450.0,699.6Q451.0,699.6 451.9,699.4L451.9,699.4Q452.8,699.3 453.8,699.3L456.0,699.4Q457.0,699.4 458.0,699.4L460.3,699.4Q461.3,699.4 462.3,699.4L462.5,699.5Q463.5,699.5 464.5,699.5L470.6,699.5Q471.6,699.5 472.5,699.4L472.5,699.4Q473.4,699.3 474.4,699.3L476.6,699.4Q477.6,699.4 478.6,699.4L501.4,699.4Q502.4,699.4 503.4,699.5L503.6,699.5Q504.6,699.6 505.6,699.6L511.7,699.6Q512.7,699.6 513.6,699.4L513.6,699.4Q514.5,699.3 515.5,699.3L517.7,699.4Q518.7,699.4 519.7,699.4L522.0,699.4Q523.0,699.4 524.0,699.4L524.2,699.5Q525.2,699.5 526.2,699.5L532.3,699.5Q533.3,699.5 534.2,699.4L534.2,699.4Q535.1,699.3 536.1,699.3L538.3,699.4Q539.3,699.4 540.3,699.4L542.6,699.4Q543.6,699.4 544.6,699.4L544.8,699.5Q545.8,699.5 546.8,699.5L552.9,699.5Q553.9,699.5 554.8,699.4L554.8,699.4Q555.7,699.3 556.7,699.3L558.9,699.4Q559.9,699.4 560.9,699.4L563.7,699.4Q564.7,699.4 564.8,700.4L565.9,713.8Q566.0,714.8 567.0,714.8L573.5,714.9Q574.5,714.9 575.4,714.8L575.4,714.8Q576.3,714.7 577.3,714.7L579.5,714.8Q580.5,714.8 581.5,714.8L585.0,714.8" fill="none" stroke="#e8141e" stroke-width="2.4" stroke-linejoin="round"/>
<rect x="61.8" y="35.5" width="616.6" height="39.60" fill="none" stroke="#787878" stroke-width="1.35" rx="1"/>
<line x1="61.80" y1="45.20" x2="67.00" y2="45.20" stroke="#787878" stroke-width="1.2" />
<line x1="673.20" y1="45.20" x2="678.40" y2="45.20" stroke="#787878" stroke-width="1.2" />
<line x1="61.80" y1="55.00" x2="67.00" y2="55.00" stroke="#787878" stroke-width="1.2" />
<line x1="673.20" y1="55.00" x2="678.40" y2="55.00" stroke="#787878" stroke-width="1.2" />
<line x1="61.80" y1="65.60" x2="67.00" y2="65.60" stroke="#787878" stroke-width="1.2" />
<line x1="673.20" y1="65.60" x2="678.40" y2="65.60" stroke="#787878" stroke-width="1.2" />
<line x1="164.60" y1="35.50" x2="164.60" y2="39.50" stroke="#666" stroke-width="1.1" />
<line x1="164.60" y1="71.10" x2="164.60" y2="75.10" stroke="#666" stroke-width="1.1" />
<line x1="267.20" y1="35.50" x2="267.20" y2="39.50" stroke="#666" stroke-width="1.1" />
<line x1="267.20" y1="71.10" x2="267.20" y2="75.10" stroke="#666" stroke-width="1.1" />
<line x1="369.80" y1="35.50" x2="369.80" y2="39.50" stroke="#666" stroke-width="1.1" />
<line x1="369.80" y1="71.10" x2="369.80" y2="75.10" stroke="#666" stroke-width="1.1" />
<line x1="472.40" y1="35.50" x2="472.40" y2="39.50" stroke="#666" stroke-width="1.1" />
<line x1="472.40" y1="71.10" x2="472.40" y2="75.10" stroke="#666" stroke-width="1.1" />
<line x1="575.00" y1="35.50" x2="575.00" y2="39.50" stroke="#666" stroke-width="1.1" />
<line x1="575.00" y1="71.10" x2="575.00" y2="75.10" stroke="#666" stroke-width="1.1" />
<rect x="61.8" y="81.6" width="616.6" height="38.90" fill="none" stroke="#787878" stroke-width="1.35" rx="1"/>
<line x1="61.80" y1="91.30" x2="67.00" y2="91.30" stroke="#787878" stroke-width="1.2" />
<line x1="673.20" y1="91.30" x2="678.40" y2="91.30" stroke="#787878" stroke-width="1.2" />
<line x1="61.80" y1="100.60" x2="67.00" y2="100.60" stroke="#787878" stroke-width="1.2" />
<line x1="673.20" y1="100.60" x2="678.40" y2="100.60" stroke="#787878" stroke-width="1.2" />
<line x1="61.80" y1="111.00" x2="67.00" y2="111.00" stroke="#787878" stroke-width="1.2" />
<line x1="673.20" y1="111.00" x2="678.40" y2="111.00" stroke="#787878" stroke-width="1.2" />
<line x1="164.60" y1="81.60" x2="164.60" y2="85.60" stroke="#666" stroke-width="1.1" />
<line x1="164.60" y1="116.50" x2="164.60" y2="120.50" stroke="#666" stroke-width="1.1" />
<line x1="267.20" y1="81.60" x2="267.20" y2="85.60" stroke="#666" stroke-width="1.1" />
<line x1="267.20" y1="116.50" x2="267.20" y2="120.50" stroke="#666" stroke-width="1.1" />
<line x1="369.80" y1="81.60" x2="369.80" y2="85.60" stroke="#666" stroke-width="1.1" />
<line x1="369.80" y1="116.50" x2="369.80" y2="120.50" stroke="#666" stroke-width="1.1" />
<line x1="472.40" y1="81.60" x2="472.40" y2="85.60" stroke="#666" stroke-width="1.1" />
<line x1="472.40" y1="116.50" x2="472.40" y2="120.50" stroke="#666" stroke-width="1.1" />
<line x1="575.00" y1="81.60" x2="575.00" y2="85.60" stroke="#666" stroke-width="1.1" />
<line x1="575.00" y1="116.50" x2="575.00" y2="120.50" stroke="#666" stroke-width="1.1" />
<rect x="61.8" y="127.3" width="616.6" height="36.60" fill="none" stroke="#787878" stroke-width="1.35" rx="1"/>
<line x1="61.80" y1="136.60" x2="67.00" y2="136.60" stroke="#787878" stroke-width="1.2" />
<line x1="673.20" y1="136.60" x2="678.40" y2="136.60" stroke="#787878" stroke-width="1.2" />
<line x1="61.80" y1="146.40" x2="67.00" y2="146.40" stroke="#787878" stroke-width="1.2" />
<line x1="673.20" y1="146.40" x2="678.40" y2="146.40" stroke="#787878" stroke-width="1.2" />
<line x1="61.80" y1="155.00" x2="67.00" y2="155.00" stroke="#787878" stroke-width="1.2" />
<line x1="673.20" y1="155.00" x2="678.40" y2="155.00" stroke="#787878" stroke-width="1.2" />
<line x1="164.60" y1="127.30" x2="164.60" y2="131.30" stroke="#666" stroke-width="1.1" />
<line x1="164.60" y1="159.90" x2="164.60" y2="163.90" stroke="#666" stroke-width="1.1" />
<line x1="267.20" y1="127.30" x2="267.20" y2="131.30" stroke="#666" stroke-width="1.1" />
<line x1="267.20" y1="159.90" x2="267.20" y2="163.90" stroke="#666" stroke-width="1.1" />
<line x1="369.80" y1="127.30" x2="369.80" y2="131.30" stroke="#666" stroke-width="1.1" />
<line x1="369.80" y1="159.90" x2="369.80" y2="163.90" stroke="#666" stroke-width="1.1" />
<line x1="472.40" y1="127.30" x2="472.40" y2="131.30" stroke="#666" stroke-width="1.1" />
<line x1="472.40" y1="159.90" x2="472.40" y2="163.90" stroke="#666" stroke-width="1.1" />
<line x1="575.00" y1="127.30" x2="575.00" y2="131.30" stroke="#666" stroke-width="1.1" />
<line x1="575.00" y1="159.90" x2="575.00" y2="163.90" stroke="#666" stroke-width="1.1" />
<rect x="61.8" y="171.2" width="616.6" height="38.10" fill="none" stroke="#787878" stroke-width="1.35" rx="1"/>
<line x1="61.80" y1="181.00" x2="67.00" y2="181.00" stroke="#787878" stroke-width="1.2" />
<line x1="673.20" y1="181.00" x2="678.40" y2="181.00" stroke="#787878" stroke-width="1.2" />
<line x1="61.80" y1="190.90" x2="67.00" y2="190.90" stroke="#787878" stroke-width="1.2" />
<line x1="673.20" y1="190.90" x2="678.40" y2="190.90" stroke="#787878" stroke-width="1.2" />
<line x1="61.80" y1="200.70" x2="67.00" y2="200.70" stroke="#787878" stroke-width="1.2" />
<line x1="673.20" y1="200.70" x2="678.40" y2="200.70" stroke="#787878" stroke-width="1.2" />
<line x1="164.60" y1="171.20" x2="164.60" y2="175.20" stroke="#666" stroke-width="1.1" />
<line x1="164.60" y1="205.30" x2="164.60" y2="209.30" stroke="#666" stroke-width="1.1" />
<line x1="267.20" y1="171.20" x2="267.20" y2="175.20" stroke="#666" stroke-width="1.1" />
<line x1="267.20" y1="205.30" x2="267.20" y2="209.30" stroke="#666" stroke-width="1.1" />
<line x1="369.80" y1="171.20" x2="369.80" y2="175.20" stroke="#666" stroke-width="1.1" />
<line x1="369.80" y1="205.30" x2="369.80" y2="209.30" stroke="#666" stroke-width="1.1" />
<line x1="472.40" y1="171.20" x2="472.40" y2="175.20" stroke="#666" stroke-width="1.1" />
<line x1="472.40" y1="205.30" x2="472.40" y2="209.30" stroke="#666" stroke-width="1.1" />
<line x1="575.00" y1="171.20" x2="575.00" y2="175.20" stroke="#666" stroke-width="1.1" />
<line x1="575.00" y1="205.30" x2="575.00" y2="209.30" stroke="#666" stroke-width="1.1" />
<rect x="61.8" y="217.3" width="616.6" height="39.50" fill="none" stroke="#787878" stroke-width="1.35" rx="1"/>
<line x1="61.80" y1="227.30" x2="67.00" y2="227.30" stroke="#787878" stroke-width="1.2" />
<line x1="673.20" y1="227.30" x2="678.40" y2="227.30" stroke="#787878" stroke-width="1.2" />
<line x1="61.80" y1="237.40" x2="67.00" y2="237.40" stroke="#787878" stroke-width="1.2" />
<line x1="673.20" y1="237.40" x2="678.40" y2="237.40" stroke="#787878" stroke-width="1.2" />
<line x1="61.80" y1="247.50" x2="67.00" y2="247.50" stroke="#787878" stroke-width="1.2" />
<line x1="673.20" y1="247.50" x2="678.40" y2="247.50" stroke="#787878" stroke-width="1.2" />
<line x1="164.60" y1="217.30" x2="164.60" y2="221.30" stroke="#666" stroke-width="1.1" />
<line x1="164.60" y1="252.80" x2="164.60" y2="256.80" stroke="#666" stroke-width="1.1" />
<line x1="267.20" y1="217.30" x2="267.20" y2="221.30" stroke="#666" stroke-width="1.1" />
<line x1="267.20" y1="252.80" x2="267.20" y2="256.80" stroke="#666" stroke-width="1.1" />
<line x1="369.80" y1="217.30" x2="369.80" y2="221.30" stroke="#666" stroke-width="1.1" />
<line x1="369.80" y1="252.80" x2="369.80" y2="256.80" stroke="#666" stroke-width="1.1" />
<line x1="472.40" y1="217.30" x2="472.40" y2="221.30" stroke="#666" stroke-width="1.1" />
<line x1="472.40" y1="252.80" x2="472.40" y2="256.80" stroke="#666" stroke-width="1.1" />
<line x1="575.00" y1="217.30" x2="575.00" y2="221.30" stroke="#666" stroke-width="1.1" />
<line x1="575.00" y1="252.80" x2="575.00" y2="256.80" stroke="#666" stroke-width="1.1" />
<rect x="61.8" y="265.2" width="616.6" height="38.60" fill="none" stroke="#787878" stroke-width="1.35" rx="1"/>
<line x1="61.80" y1="274.80" x2="67.00" y2="274.80" stroke="#787878" stroke-width="1.2" />
<line x1="673.20" y1="274.80" x2="678.40" y2="274.80" stroke="#787878" stroke-width="1.2" />
<line x1="61.80" y1="284.50" x2="67.00" y2="284.50" stroke="#787878" stroke-width="1.2" />
<line x1="673.20" y1="284.50" x2="678.40" y2="284.50" stroke="#787878" stroke-width="1.2" />
<line x1="61.80" y1="294.30" x2="67.00" y2="294.30" stroke="#787878" stroke-width="1.2" />
<line x1="673.20" y1="294.30" x2="678.40" y2="294.30" stroke="#787878" stroke-width="1.2" />
<line x1="164.60" y1="265.20" x2="164.60" y2="269.20" stroke="#666" stroke-width="1.1" />
<line x1="164.60" y1="299.80" x2="164.60" y2="303.80" stroke="#666" stroke-width="1.1" />
<line x1="267.20" y1="265.20" x2="267.20" y2="269.20" stroke="#666" stroke-width="1.1" />
<line x1="267.20" y1="299.80" x2="267.20" y2="303.80" stroke="#666" stroke-width="1.1" />
<line x1="369.80" y1="265.20" x2="369.80" y2="269.20" stroke="#666" stroke-width="1.1" />
<line x1="369.80" y1="299.80" x2="369.80" y2="303.80" stroke="#666" stroke-width="1.1" />
<line x1="472.40" y1="265.20" x2="472.40" y2="269.20" stroke="#666" stroke-width="1.1" />
<line x1="472.40" y1="299.80" x2="472.40" y2="303.80" stroke="#666" stroke-width="1.1" />
<line x1="575.00" y1="265.20" x2="575.00" y2="269.20" stroke="#666" stroke-width="1.1" />
<line x1="575.00" y1="299.80" x2="575.00" y2="303.80" stroke="#666" stroke-width="1.1" />
<rect x="61.8" y="313.0" width="616.6" height="39.90" fill="none" stroke="#787878" stroke-width="1.35" rx="1"/>
<line x1="61.80" y1="322.60" x2="67.00" y2="322.60" stroke="#787878" stroke-width="1.2" />
<line x1="673.20" y1="322.60" x2="678.40" y2="322.60" stroke="#787878" stroke-width="1.2" />
<line x1="61.80" y1="333.10" x2="67.00" y2="333.10" stroke="#787878" stroke-width="1.2" />
<line x1="673.20" y1="333.10" x2="678.40" y2="333.10" stroke="#787878" stroke-width="1.2" />
<line x1="61.80" y1="342.80" x2="67.00" y2="342.80" stroke="#787878" stroke-width="1.2" />
<line x1="673.20" y1="342.80" x2="678.40" y2="342.80" stroke="#787878" stroke-width="1.2" />
<line x1="164.60" y1="313.00" x2="164.60" y2="317.00" stroke="#666" stroke-width="1.1" />
<line x1="164.60" y1="348.90" x2="164.60" y2="352.90" stroke="#666" stroke-width="1.1" />
<line x1="267.20" y1="313.00" x2="267.20" y2="317.00" stroke="#666" stroke-width="1.1" />
<line x1="267.20" y1="348.90" x2="267.20" y2="352.90" stroke="#666" stroke-width="1.1" />
<line x1="369.80" y1="313.00" x2="369.80" y2="317.00" stroke="#666" stroke-width="1.1" />
<line x1="369.80" y1="348.90" x2="369.80" y2="352.90" stroke="#666" stroke-width="1.1" />
<line x1="472.40" y1="313.00" x2="472.40" y2="317.00" stroke="#666" stroke-width="1.1" />
<line x1="472.40" y1="348.90" x2="472.40" y2="352.90" stroke="#666" stroke-width="1.1" />
<line x1="575.00" y1="313.00" x2="575.00" y2="317.00" stroke="#666" stroke-width="1.1" />
<line x1="575.00" y1="348.90" x2="575.00" y2="352.90" stroke="#666" stroke-width="1.1" />
<rect x="61.8" y="359.1" width="616.6" height="38.50" fill="none" stroke="#787878" stroke-width="1.35" rx="1"/>
<line x1="61.80" y1="368.70" x2="67.00" y2="368.70" stroke="#787878" stroke-width="1.2" />
<line x1="673.20" y1="368.70" x2="678.40" y2="368.70" stroke="#787878" stroke-width="1.2" />
<line x1="61.80" y1="378.20" x2="67.00" y2="378.20" stroke="#787878" stroke-width="1.2" />
<line x1="673.20" y1="378.20" x2="678.40" y2="378.20" stroke="#787878" stroke-width="1.2" />
<line x1="61.80" y1="387.90" x2="67.00" y2="387.90" stroke="#787878" stroke-width="1.2" />
<line x1="673.20" y1="387.90" x2="678.40" y2="387.90" stroke="#787878" stroke-width="1.2" />
<line x1="164.60" y1="359.10" x2="164.60" y2="363.10" stroke="#666" stroke-width="1.1" />
<line x1="164.60" y1="393.60" x2="164.60" y2="397.60" stroke="#666" stroke-width="1.1" />
<line x1="267.20" y1="359.10" x2="267.20" y2="363.10" stroke="#666" stroke-width="1.1" />
<line x1="267.20" y1="393.60" x2="267.20" y2="397.60" stroke="#666" stroke-width="1.1" />
<line x1="369.80" y1="359.10" x2="369.80" y2="363.10" stroke="#666" stroke-width="1.1" />
<line x1="369.80" y1="393.60" x2="369.80" y2="397.60" stroke="#666" stroke-width="1.1" />
<line x1="472.40" y1="359.10" x2="472.40" y2="363.10" stroke="#666" stroke-width="1.1" />
<line x1="472.40" y1="393.60" x2="472.40" y2="397.60" stroke="#666" stroke-width="1.1" />
<line x1="575.00" y1="359.10" x2="575.00" y2="363.10" stroke="#666" stroke-width="1.1" />
<line x1="575.00" y1="393.60" x2="575.00" y2="397.60" stroke="#666" stroke-width="1.1" />
<rect x="61.8" y="404.1" width="616.6" height="38.10" fill="none" stroke="#787878" stroke-width="1.35" rx="1"/>
<line x1="61.80" y1="413.00" x2="67.00" y2="413.00" stroke="#787878" stroke-width="1.2" />
<line x1="673.20" y1="413.00" x2="678.40" y2="413.00" stroke="#787878" stroke-width="1.2" />
<line x1="61.80" y1="422.90" x2="67.00" y2="422.90" stroke="#787878" stroke-width="1.2" />
<line x1="673.20" y1="422.90" x2="678.40" y2="422.90" stroke="#787878" stroke-width="1.2" />
<line x1="61.80" y1="432.70" x2="67.00" y2="432.70" stroke="#787878" stroke-width="1.2" />
<line x1="673.20" y1="432.70" x2="678.40" y2="432.70" stroke="#787878" stroke-width="1.2" />
<line x1="164.60" y1="404.10" x2="164.60" y2="408.10" stroke="#666" stroke-width="1.1" />
<line x1="164.60" y1="438.20" x2="164.60" y2="442.20" stroke="#666" stroke-width="1.1" />
<line x1="267.20" y1="404.10" x2="267.20" y2="408.10" stroke="#666" stroke-width="1.1" />
<line x1="267.20" y1="438.20" x2="267.20" y2="442.20" stroke="#666" stroke-width="1.1" />
<line x1="369.80" y1="404.10" x2="369.80" y2="408.10" stroke="#666" stroke-width="1.1" />
<line x1="369.80" y1="438.20" x2="369.80" y2="442.20" stroke="#666" stroke-width="1.1" />
<line x1="472.40" y1="404.10" x2="472.40" y2="408.10" stroke="#666" stroke-width="1.1" />
<line x1="472.40" y1="438.20" x2="472.40" y2="442.20" stroke="#666" stroke-width="1.1" />
<line x1="575.00" y1="404.10" x2="575.00" y2="408.10" stroke="#666" stroke-width="1.1" />
<line x1="575.00" y1="438.20" x2="575.00" y2="442.20" stroke="#666" stroke-width="1.1" />
<rect x="61.8" y="449.1" width="616.6" height="37.40" fill="none" stroke="#787878" stroke-width="1.35" rx="1"/>
<line x1="61.80" y1="458.40" x2="67.00" y2="458.40" stroke="#787878" stroke-width="1.2" />
<line x1="673.20" y1="458.40" x2="678.40" y2="458.40" stroke="#787878" stroke-width="1.2" />
<line x1="61.80" y1="468.20" x2="67.00" y2="468.20" stroke="#787878" stroke-width="1.2" />
<line x1="673.20" y1="468.20" x2="678.40" y2="468.20" stroke="#787878" stroke-width="1.2" />
<line x1="61.80" y1="477.90" x2="67.00" y2="477.90" stroke="#787878" stroke-width="1.2" />
<line x1="673.20" y1="477.90" x2="678.40" y2="477.90" stroke="#787878" stroke-width="1.2" />
<line x1="164.60" y1="449.10" x2="164.60" y2="453.10" stroke="#666" stroke-width="1.1" />
<line x1="164.60" y1="482.50" x2="164.60" y2="486.50" stroke="#666" stroke-width="1.1" />
<line x1="267.20" y1="449.10" x2="267.20" y2="453.10" stroke="#666" stroke-width="1.1" />
<line x1="267.20" y1="482.50" x2="267.20" y2="486.50" stroke="#666" stroke-width="1.1" />
<line x1="369.80" y1="449.10" x2="369.80" y2="453.10" stroke="#666" stroke-width="1.1" />
<line x1="369.80" y1="482.50" x2="369.80" y2="486.50" stroke="#666" stroke-width="1.1" />
<line x1="472.40" y1="449.10" x2="472.40" y2="453.10" stroke="#666" stroke-width="1.1" />
<line x1="472.40" y1="482.50" x2="472.40" y2="486.50" stroke="#666" stroke-width="1.1" />
<line x1="575.00" y1="449.10" x2="575.00" y2="453.10" stroke="#666" stroke-width="1.1" />
<line x1="575.00" y1="482.50" x2="575.00" y2="486.50" stroke="#666" stroke-width="1.1" />
<rect x="61.8" y="491.8" width="616.6" height="37.20" fill="none" stroke="#787878" stroke-width="1.35" rx="1"/>
<line x1="61.80" y1="500.60" x2="67.00" y2="500.60" stroke="#787878" stroke-width="1.2" />
<line x1="673.20" y1="500.60" x2="678.40" y2="500.60" stroke="#787878" stroke-width="1.2" />
<line x1="61.80" y1="510.30" x2="67.00" y2="510.30" stroke="#787878" stroke-width="1.2" />
<line x1="673.20" y1="510.30" x2="678.40" y2="510.30" stroke="#787878" stroke-width="1.2" />
<line x1="61.80" y1="519.60" x2="67.00" y2="519.60" stroke="#787878" stroke-width="1.2" />
<line x1="673.20" y1="519.60" x2="678.40" y2="519.60" stroke="#787878" stroke-width="1.2" />
<line x1="164.60" y1="491.80" x2="164.60" y2="495.80" stroke="#666" stroke-width="1.1" />
<line x1="164.60" y1="525.00" x2="164.60" y2="529.00" stroke="#666" stroke-width="1.1" />
<line x1="267.20" y1="491.80" x2="267.20" y2="495.80" stroke="#666" stroke-width="1.1" />
<line x1="267.20" y1="525.00" x2="267.20" y2="529.00" stroke="#666" stroke-width="1.1" />
<line x1="369.80" y1="491.80" x2="369.80" y2="495.80" stroke="#666" stroke-width="1.1" />
<line x1="369.80" y1="525.00" x2="369.80" y2="529.00" stroke="#666" stroke-width="1.1" />
<line x1="472.40" y1="491.80" x2="472.40" y2="495.80" stroke="#666" stroke-width="1.1" />
<line x1="472.40" y1="525.00" x2="472.40" y2="529.00" stroke="#666" stroke-width="1.1" />
<line x1="575.00" y1="491.80" x2="575.00" y2="495.80" stroke="#666" stroke-width="1.1" />
<line x1="575.00" y1="525.00" x2="575.00" y2="529.00" stroke="#666" stroke-width="1.1" />
<rect x="61.8" y="536.2" width="616.6" height="36.00" fill="none" stroke="#787878" stroke-width="1.35" rx="1"/>
<line x1="61.80" y1="545.30" x2="67.00" y2="545.30" stroke="#787878" stroke-width="1.2" />
<line x1="673.20" y1="545.30" x2="678.40" y2="545.30" stroke="#787878" stroke-width="1.2" />
<line x1="61.80" y1="554.60" x2="67.00" y2="554.60" stroke="#787878" stroke-width="1.2" />
<line x1="673.20" y1="554.60" x2="678.40" y2="554.60" stroke="#787878" stroke-width="1.2" />
<line x1="61.80" y1="563.60" x2="67.00" y2="563.60" stroke="#787878" stroke-width="1.2" />
<line x1="673.20" y1="563.60" x2="678.40" y2="563.60" stroke="#787878" stroke-width="1.2" />
<line x1="164.60" y1="536.20" x2="164.60" y2="540.20" stroke="#666" stroke-width="1.1" />
<line x1="164.60" y1="568.20" x2="164.60" y2="572.20" stroke="#666" stroke-width="1.1" />
<line x1="267.20" y1="536.20" x2="267.20" y2="540.20" stroke="#666" stroke-width="1.1" />
<line x1="267.20" y1="568.20" x2="267.20" y2="572.20" stroke="#666" stroke-width="1.1" />
<line x1="369.80" y1="536.20" x2="369.80" y2="540.20" stroke="#666" stroke-width="1.1" />
<line x1="369.80" y1="568.20" x2="369.80" y2="572.20" stroke="#666" stroke-width="1.1" />
<line x1="472.40" y1="536.20" x2="472.40" y2="540.20" stroke="#666" stroke-width="1.1" />
<line x1="472.40" y1="568.20" x2="472.40" y2="572.20" stroke="#666" stroke-width="1.1" />
<line x1="575.00" y1="536.20" x2="575.00" y2="540.20" stroke="#666" stroke-width="1.1" />
<line x1="575.00" y1="568.20" x2="575.00" y2="572.20" stroke="#666" stroke-width="1.1" />
<rect x="61.8" y="579.4" width="616.6" height="37.90" fill="none" stroke="#787878" stroke-width="1.35" rx="1"/>
<line x1="61.80" y1="588.70" x2="67.00" y2="588.70" stroke="#787878" stroke-width="1.2" />
<line x1="673.20" y1="588.70" x2="678.40" y2="588.70" stroke="#787878" stroke-width="1.2" />
<line x1="61.80" y1="598.40" x2="67.00" y2="598.40" stroke="#787878" stroke-width="1.2" />
<line x1="673.20" y1="598.40" x2="678.40" y2="598.40" stroke="#787878" stroke-width="1.2" />
<line x1="61.80" y1="608.20" x2="67.00" y2="608.20" stroke="#787878" stroke-width="1.2" />
<line x1="673.20" y1="608.20" x2="678.40" y2="608.20" stroke="#787878" stroke-width="1.2" />
<line x1="164.60" y1="579.40" x2="164.60" y2="583.40" stroke="#666" stroke-width="1.1" />
<line x1="164.60" y1="613.30" x2="164.60" y2="617.30" stroke="#666" stroke-width="1.1" />
<line x1="267.20" y1="579.40" x2="267.20" y2="583.40" stroke="#666" stroke-width="1.1" />
<line x1="267.20" y1="613.30" x2="267.20" y2="617.30" stroke="#666" stroke-width="1.1" />
<line x1="369.80" y1="579.40" x2="369.80" y2="583.40" stroke="#666" stroke-width="1.1" />
<line x1="369.80" y1="613.30" x2="369.80" y2="617.30" stroke="#666" stroke-width="1.1" />
<line x1="472.40" y1="579.40" x2="472.40" y2="583.40" stroke="#666" stroke-width="1.1" />
<line x1="472.40" y1="613.30" x2="472.40" y2="617.30" stroke="#666" stroke-width="1.1" />
<line x1="575.00" y1="579.40" x2="575.00" y2="583.40" stroke="#666" stroke-width="1.1" />
<line x1="575.00" y1="613.30" x2="575.00" y2="617.30" stroke="#666" stroke-width="1.1" />
<rect x="61.8" y="627.2" width="616.6" height="44.60" fill="none" stroke="#787878" stroke-width="1.35" rx="1"/>
<line x1="61.80" y1="637.70" x2="67.00" y2="637.70" stroke="#787878" stroke-width="1.2" />
<line x1="673.20" y1="637.70" x2="678.40" y2="637.70" stroke="#787878" stroke-width="1.2" />
<line x1="61.80" y1="649.30" x2="67.00" y2="649.30" stroke="#787878" stroke-width="1.2" />
<line x1="673.20" y1="649.30" x2="678.40" y2="649.30" stroke="#787878" stroke-width="1.2" />
<line x1="61.80" y1="660.80" x2="67.00" y2="660.80" stroke="#787878" stroke-width="1.2" />
<line x1="673.20" y1="660.80" x2="678.40" y2="660.80" stroke="#787878" stroke-width="1.2" />
<line x1="164.60" y1="627.20" x2="164.60" y2="631.20" stroke="#666" stroke-width="1.1" />
<line x1="164.60" y1="667.80" x2="164.60" y2="671.80" stroke="#666" stroke-width="1.1" />
<line x1="267.20" y1="627.20" x2="267.20" y2="631.20" stroke="#666" stroke-width="1.1" />
<line x1="267.20" y1="667.80" x2="267.20" y2="671.80" stroke="#666" stroke-width="1.1" />
<line x1="369.80" y1="627.20" x2="369.80" y2="631.20" stroke="#666" stroke-width="1.1" />
<line x1="369.80" y1="667.80" x2="369.80" y2="671.80" stroke="#666" stroke-width="1.1" />
<line x1="472.40" y1="627.20" x2="472.40" y2="631.20" stroke="#666" stroke-width="1.1" />
<line x1="472.40" y1="667.80" x2="472.40" y2="671.80" stroke="#666" stroke-width="1.1" />
<line x1="575.00" y1="627.20" x2="575.00" y2="631.20" stroke="#666" stroke-width="1.1" />
<line x1="575.00" y1="667.80" x2="575.00" y2="671.80" stroke="#666" stroke-width="1.1" />
<rect x="61.8" y="680.1" width="616.6" height="46.10" fill="none" stroke="#787878" stroke-width="1.35" rx="1"/>
<line x1="61.80" y1="691.50" x2="67.00" y2="691.50" stroke="#787878" stroke-width="1.2" />
<line x1="673.20" y1="691.50" x2="678.40" y2="691.50" stroke="#787878" stroke-width="1.2" />
<line x1="61.80" y1="703.70" x2="67.00" y2="703.70" stroke="#787878" stroke-width="1.2" />
<line x1="673.20" y1="703.70" x2="678.40" y2="703.70" stroke="#787878" stroke-width="1.2" />
<line x1="61.80" y1="715.20" x2="67.00" y2="715.20" stroke="#787878" stroke-width="1.2" />
<line x1="673.20" y1="715.20" x2="678.40" y2="715.20" stroke="#787878" stroke-width="1.2" />
<line x1="164.60" y1="680.10" x2="164.60" y2="684.10" stroke="#666" stroke-width="1.1" />
<line x1="164.60" y1="722.20" x2="164.60" y2="726.20" stroke="#666" stroke-width="1.1" />
<line x1="267.20" y1="680.10" x2="267.20" y2="684.10" stroke="#666" stroke-width="1.1" />
<line x1="267.20" y1="722.20" x2="267.20" y2="726.20" stroke="#666" stroke-width="1.1" />
<line x1="369.80" y1="680.10" x2="369.80" y2="684.10" stroke="#666" stroke-width="1.1" />
<line x1="369.80" y1="722.20" x2="369.80" y2="726.20" stroke="#666" stroke-width="1.1" />
<line x1="472.40" y1="680.10" x2="472.40" y2="684.10" stroke="#666" stroke-width="1.1" />
<line x1="472.40" y1="722.20" x2="472.40" y2="726.20" stroke="#666" stroke-width="1.1" />
<line x1="575.00" y1="680.10" x2="575.00" y2="684.10" stroke="#666" stroke-width="1.1" />
<line x1="575.00" y1="722.20" x2="575.00" y2="726.20" stroke="#666" stroke-width="1.1" />
<rect x="62.30" y="41.90" width="162.70" height="439.60" fill="#f1f6fd" style="mix-blend-mode:multiply"/>
<rect x="311.00" y="39.70" width="163.40" height="439.00" fill="#f1f6fd" style="mix-blend-mode:multiply"/>
<rect x="224.90" y="41.90" width="31.60" height="439.60" fill="#fef2b0" style="mix-blend-mode:multiply"/>
<rect x="474.40" y="39.70" width="32.00" height="439.00" fill="#fef2b0" style="mix-blend-mode:multiply"/>
<rect x="242.80" y="487.90" width="109.30" height="230.80" fill="#fce6e7" style="mix-blend-mode:multiply"/>
<rect x="492.10" y="478.40" width="109.80" height="240.30" fill="#fce6e7" style="mix-blend-mode:multiply"/>
<text transform="translate(616.49,66.10) scale(0.8927,1)" font-family='"Liberation Sans", sans-serif' font-size="23.04" font-weight="bold" fill="#2f41a5">A1</text>
<text transform="translate(616.76,112.20) scale(0.9569,1)" font-family='"Liberation Sans", sans-serif' font-size="22.71" font-weight="bold" fill="#2f41a5">A2</text>
<text transform="translate(616.67,156.70) scale(0.9150,1)" font-family='"Liberation Sans", sans-serif' font-size="22.32" font-weight="bold" fill="#2f41a5">B1</text>
<text transform="translate(616.57,203.60) scale(0.9670,1)" font-family='"Liberation Sans", sans-serif' font-size="22.71" font-weight="bold" fill="#2f41a5">B2</text>
<text transform="translate(616.79,248.67) scale(0.8856,1)" font-family='"Liberation Sans", sans-serif' font-size="22.96" font-weight="bold" fill="#2f41a5">C1</text>
<text transform="translate(617.52,296.67) scale(0.9586,1)" font-family='"Liberation Sans", sans-serif' font-size="22.96" font-weight="bold" fill="#2f41a5">C2</text>
<text transform="translate(616.67,339.20) scale(0.9150,1)" font-family='"Liberation Sans", sans-serif' font-size="22.32" font-weight="bold" fill="#2f41a5">D1</text>
<text transform="translate(617.57,387.20) scale(0.9670,1)" font-family='"Liberation Sans", sans-serif' font-size="22.71" font-weight="bold" fill="#2f41a5">D2</text>
<text transform="translate(621.08,434.00) scale(0.9774,1)" font-family='"Liberation Sans", sans-serif' font-size="22.61" font-weight="bold" fill="#2f41a5">TI</text>
<text transform="translate(611.29,476.09) scale(0.9343,1)" font-family='"Liberation Sans", sans-serif' font-size="22.44" font-weight="bold" fill="#2f41a5">trg1</text>
<text transform="translate(614.18,518.97) scale(0.9514,1)" font-family='"Liberation Sans", sans-serif' font-size="22.68" font-weight="bold" fill="#e60012">TO</text>
<text transform="translate(612.75,564.78) scale(0.9961,1)" font-family='"Liberation Sans", sans-serif' font-size="22.25" font-weight="bold" fill="#e60012">AO</text>
<text transform="translate(612.55,608.67) scale(0.9835,1)" font-family='"Liberation Sans", sans-serif' font-size="22.68" font-weight="bold" fill="#e60012">BO</text>
<text transform="translate(612.82,661.27) scale(0.9635,1)" font-family='"Liberation Sans", sans-serif' font-size="22.96" font-weight="bold" fill="#e60012">CO</text>
<text transform="translate(613.25,709.68) scale(1.0282,1)" font-family='"Liberation Sans", sans-serif' font-size="21.69" font-weight="bold" fill="#e60012">DO</text>
<text transform="translate(28.37,53.31) scale(1.2027,1)" font-family='"Liberation Serif", serif' font-size="19.41" fill="#000">0.4</text>
<text transform="translate(46.03,73.60) scale(1.2419,1)" font-family='"Liberation Serif", serif' font-size="19.56" fill="#000">0</text>
<text transform="translate(16.98,74.25) rotate(-90) scale(1.0572,1)" font-family='"Liberation Serif", serif' font-size="21.49" fill="#000">mV</text>
<text transform="translate(28.37,99.41) scale(1.2027,1)" font-family='"Liberation Serif", serif' font-size="19.41" fill="#000">0.4</text>
<text transform="translate(46.03,119.00) scale(1.2419,1)" font-family='"Liberation Serif", serif' font-size="19.56" fill="#000">0</text>
<text transform="translate(16.98,119.64) rotate(-90) scale(1.0350,1)" font-family='"Liberation Serif", serif' font-size="21.49" fill="#000">mV</text>
<text transform="translate(28.37,144.71) scale(1.2027,1)" font-family='"Liberation Serif", serif' font-size="19.41" fill="#000">0.4</text>
<text transform="translate(46.03,163.00) scale(1.2419,1)" font-family='"Liberation Serif", serif' font-size="19.56" fill="#000">0</text>
<text transform="translate(16.98,163.63) rotate(-90) scale(0.9939,1)" font-family='"Liberation Serif", serif' font-size="21.49" fill="#000">mV</text>
<text transform="translate(28.37,189.11) scale(1.2027,1)" font-family='"Liberation Serif", serif' font-size="19.41" fill="#000">0.4</text>
<text transform="translate(46.03,208.70) scale(1.2419,1)" font-family='"Liberation Serif", serif' font-size="19.56" fill="#000">0</text>
<text transform="translate(16.98,209.34) rotate(-90) scale(1.0350,1)" font-family='"Liberation Serif", serif' font-size="21.49" fill="#000">mV</text>
<text transform="translate(28.37,235.41) scale(1.2027,1)" font-family='"Liberation Serif", serif' font-size="19.41" fill="#000">0.4</text>
<text transform="translate(46.03,255.50) scale(1.2419,1)" font-family='"Liberation Serif", serif' font-size="19.56" fill="#000">0</text>
<text transform="translate(16.98,256.15) rotate(-90) scale(1.0508,1)" font-family='"Liberation Serif", serif' font-size="21.49" fill="#000">mV</text>
<text transform="translate(28.37,282.91) scale(1.2027,1)" font-family='"Liberation Serif", serif' font-size="19.41" fill="#000">0.4</text>
<text transform="translate(46.03,302.30) scale(1.2419,1)" font-family='"Liberation Serif", serif' font-size="19.56" fill="#000">0</text>
<text transform="translate(16.98,302.94) rotate(-90) scale(1.0287,1)" font-family='"Liberation Serif", serif' font-size="21.49" fill="#000">mV</text>
<text transform="translate(28.37,330.71) scale(1.2027,1)" font-family='"Liberation Serif", serif' font-size="19.41" fill="#000">0.4</text>
<text transform="translate(46.03,350.80) scale(1.2419,1)" font-family='"Liberation Serif", serif' font-size="19.56" fill="#000">0</text>
<text transform="translate(16.98,351.45) rotate(-90) scale(1.0508,1)" font-family='"Liberation Serif", serif' font-size="21.49" fill="#000">mV</text>
<text transform="translate(28.37,376.81) scale(1.2027,1)" font-family='"Liberation Serif", serif' font-size="19.41" fill="#000">0.4</text>
<text transform="translate(46.03,395.90) scale(1.2419,1)" font-family='"Liberation Serif", serif' font-size="19.56" fill="#000">0</text>
<text transform="translate(16.98,396.54) rotate(-90) scale(1.0192,1)" font-family='"Liberation Serif", serif' font-size="21.49" fill="#000">mV</text>
<text transform="translate(28.37,421.11) scale(1.2027,1)" font-family='"Liberation Serif", serif' font-size="19.41" fill="#000">0.4</text>
<text transform="translate(46.03,440.70) scale(1.2419,1)" font-family='"Liberation Serif", serif' font-size="19.56" fill="#000">0</text>
<text transform="translate(16.98,441.34) rotate(-90) scale(1.0350,1)" font-family='"Liberation Serif", serif' font-size="21.49" fill="#000">mV</text>
<text transform="translate(28.37,466.51) scale(1.2027,1)" font-family='"Liberation Serif", serif' font-size="19.41" fill="#000">0.4</text>
<text transform="translate(46.03,485.90) scale(1.2419,1)" font-family='"Liberation Serif", serif' font-size="19.56" fill="#000">0</text>
<text transform="translate(16.98,486.54) rotate(-90) scale(1.0287,1)" font-family='"Liberation Serif", serif' font-size="21.49" fill="#000">mV</text>
<text transform="translate(28.37,508.71) scale(1.2027,1)" font-family='"Liberation Serif", serif' font-size="19.41" fill="#000">0.4</text>
<text transform="translate(46.03,527.60) scale(1.2419,1)" font-family='"Liberation Serif", serif' font-size="19.56" fill="#000">0</text>
<text transform="translate(16.98,528.24) rotate(-90) scale(1.0128,1)" font-family='"Liberation Serif", serif' font-size="21.49" fill="#000">mV</text>
<text transform="translate(28.37,553.41) scale(1.2027,1)" font-family='"Liberation Serif", serif' font-size="19.41" fill="#000">0.4</text>
<text transform="translate(46.03,571.60) scale(1.2419,1)" font-family='"Liberation Serif", serif' font-size="19.56" fill="#000">0</text>
<text transform="translate(16.98,572.23) rotate(-90) scale(0.9907,1)" font-family='"Liberation Serif", serif' font-size="21.49" fill="#000">mV</text>
<text transform="translate(28.37,596.81) scale(1.2027,1)" font-family='"Liberation Serif", serif' font-size="19.41" fill="#000">0.4</text>
<text transform="translate(46.03,616.20) scale(1.2419,1)" font-family='"Liberation Serif", serif' font-size="19.56" fill="#000">0</text>
<text transform="translate(16.98,616.84) rotate(-90) scale(1.0287,1)" font-family='"Liberation Serif", serif' font-size="21.49" fill="#000">mV</text>
<text transform="translate(28.37,645.81) scale(1.2027,1)" font-family='"Liberation Serif", serif' font-size="19.41" fill="#000">0.4</text>
<text transform="translate(46.03,668.80) scale(1.2419,1)" font-family='"Liberation Serif", serif' font-size="19.56" fill="#000">0</text>
<text transform="translate(16.98,669.49) rotate(-90) scale(1.1426,1)" font-family='"Liberation Serif", serif' font-size="21.49" fill="#000">mV</text>
<text transform="translate(28.37,699.61) scale(1.2027,1)" font-family='"Liberation Serif", serif' font-size="19.41" fill="#000">0.4</text>
<text transform="translate(46.03,723.20) scale(1.2419,1)" font-family='"Liberation Serif", serif' font-size="19.56" fill="#000">0</text>
<text transform="translate(16.98,723.90) rotate(-90) scale(1.1616,1)" font-family='"Liberation Serif", serif' font-size="21.49" fill="#000">mV</text>
<text transform="translate(55.19,745.71) scale(1.3414,1)" font-family='"Liberation Serif", serif' font-size="18.81" fill="#000">0</text>
<text transform="translate(139.72,745.71) scale(1.2359,1)" font-family='"Liberation Serif", serif' font-size="18.81" fill="#000">1000</text>
<text transform="translate(243.18,745.71) scale(1.2101,1)" font-family='"Liberation Serif", serif' font-size="18.81" fill="#000">2000</text>
<text transform="translate(345.68,745.71) scale(1.2101,1)" font-family='"Liberation Serif", serif' font-size="18.81" fill="#000">3000</text>
<text transform="translate(448.75,745.71) scale(1.1945,1)" font-family='"Liberation Serif", serif' font-size="18.81" fill="#000">4000</text>
<text transform="translate(551.32,745.71) scale(1.2196,1)" font-family='"Liberation Serif", serif' font-size="18.81" fill="#000">5000</text>
<text transform="translate(647.79,745.71) scale(1.2069,1)" font-family='"Liberation Serif", serif' font-size="18.81" fill="#000">6000</text>
<text transform="translate(70.09,23.94) scale(1.0678,1)" font-family='"Liberation Serif", serif' font-size="31.43" fill="#000">(a)</text>
<text transform="translate(131.30,463.00) rotate(-90) scale(1.1223,1)" x="-0.88 11.10 29.05 47.01 66.04 78.21 87.19 110.87 121.64 133.13 151.77 161.12 169.91 185.87 210.96 219.82 231.09 242.70 257.45 274.75 284.61 293.82 308.30 317.10 333.28 348.03" font-family='"Liberation Serif", serif' font-size="34.26" fill="#000">Input with low freq. clock</text>
<text transform="translate(250.20,440.50) rotate(-90) scale(1.2000,1)" x="-0.73 21.65 30.00 45.98 63.31 71.66 82.22 93.16 107.02 123.09 132.34 141.07 154.55 162.91 178.04 191.90 208.80 219.26 230.22 241.22 249.57 264.70 279.84 294.19" font-family='"Liberation Serif", serif' font-size="31.04" fill="#000">High freq. clock trigger</text>
<text transform="translate(416.40,455.30) rotate(-90) scale(1.1536,1)" x="-0.86 10.82 28.31 45.80 64.34 76.20 84.95 108.03 118.52 129.72 147.88 156.99 165.55 181.11 205.55 214.18 225.16 236.48 250.85 267.70 277.32 286.29 300.40 308.97 324.73 339.11" font-family='"Liberation Serif", serif' font-size="33.38" fill="#000">Input with low freq. clock</text>
<text transform="translate(500.40,438.30) rotate(-90) scale(1.1805,1)" x="-0.98 21.91 30.34 46.58 64.27 72.73 83.47 94.55 108.62 125.04 134.44 143.25 157.01 165.43 180.83 194.90 212.17 222.79 233.91 245.10 253.53 268.90 284.31 298.94" font-family='"Liberation Serif", serif' font-size="32.21" fill="#000">High freq. clock trigger</text>
<text transform="translate(289.30,710.50) rotate(-90) scale(1.2000,1)" x="-0.95 22.73 40.54 51.18 67.91 85.73 97.09 105.30 127.53 137.57 148.20" font-family='"Liberation Serif", serif' font-size="32.65" fill="#000">Output with</text>
<text transform="translate(328.10,725.10) rotate(-90) scale(1.1318,1)" x="-1.08 7.79 23.77 48.34 57.18 68.36 79.96 94.62 111.61 121.40 130.66 144.92 153.79 169.80 184.47" font-family='"Liberation Serif", serif' font-size="32.65" fill="#000">low freq. clock</text>
<text transform="translate(537.70,707.00) rotate(-90) scale(1.2000,1)" x="-0.88 22.58 40.24 50.80 67.40 85.06 96.32 104.50 126.52 136.48 147.04" font-family='"Liberation Serif", serif' font-size="32.21" fill="#000">Output with</text>
<text transform="translate(576.60,724.30) rotate(-90) scale(1.1382,1)" x="-1.08 7.82 23.87 48.55 57.44 68.67 80.31 95.05 112.11 121.94 131.25 145.57 154.48 170.56 185.30" font-family='"Liberation Serif", serif' font-size="32.80" fill="#000">low freq. clock</text>
<g stroke="#dedede" stroke-width="0.9" stroke-dasharray="2.3 2.2" fill="none">
<line x1="865.07" y1="55.7" x2="865.07" y2="680.4"/>
<line x1="881.94" y1="55.7" x2="881.94" y2="680.4"/>
<line x1="898.80" y1="55.7" x2="898.80" y2="680.4"/>
<line x1="915.67" y1="55.7" x2="915.67" y2="680.4"/>
<line x1="949.41" y1="55.7" x2="949.41" y2="680.4"/>
<line x1="966.28" y1="55.7" x2="966.28" y2="680.4"/>
<line x1="983.14" y1="55.7" x2="983.14" y2="680.4"/>
<line x1="1000.01" y1="55.7" x2="1000.01" y2="680.4"/>
<line x1="1033.75" y1="55.7" x2="1033.75" y2="680.4"/>
<line x1="1050.62" y1="55.7" x2="1050.62" y2="680.4"/>
<line x1="1067.48" y1="55.7" x2="1067.48" y2="680.4"/>
<line x1="1084.35" y1="55.7" x2="1084.35" y2="680.4"/>
<line x1="1118.09" y1="55.7" x2="1118.09" y2="680.4"/>
<line x1="1134.96" y1="55.7" x2="1134.96" y2="680.4"/>
<line x1="1151.82" y1="55.7" x2="1151.82" y2="680.4"/>
<line x1="1168.69" y1="55.7" x2="1168.69" y2="680.4"/>
<line x1="1202.43" y1="55.7" x2="1202.43" y2="680.4"/>
<line x1="1219.30" y1="55.7" x2="1219.30" y2="680.4"/>
<line x1="1236.16" y1="55.7" x2="1236.16" y2="680.4"/>
<line x1="1253.03" y1="55.7" x2="1253.03" y2="680.4"/>
<line x1="1286.77" y1="55.7" x2="1286.77" y2="680.4"/>
<line x1="1303.64" y1="55.7" x2="1303.64" y2="680.4"/>
<line x1="1320.50" y1="55.7" x2="1320.50" y2="680.4"/>
<line x1="1337.37" y1="55.7" x2="1337.37" y2="680.4"/>
<line x1="1371.11" y1="55.7" x2="1371.11" y2="680.4"/>
<line x1="1387.98" y1="55.7" x2="1387.98" y2="680.4"/>
<line x1="1404.84" y1="55.7" x2="1404.84" y2="680.4"/>
<line x1="1421.71" y1="55.7" x2="1421.71" y2="680.4"/>
<line x1="1455.45" y1="55.7" x2="1455.45" y2="680.4"/>
<line x1="1472.32" y1="55.7" x2="1472.32" y2="680.4"/>
<line x1="1489.18" y1="55.7" x2="1489.18" y2="680.4"/>
<line x1="1506.05" y1="55.7" x2="1506.05" y2="680.4"/>
<line x1="1539.79" y1="55.7" x2="1539.79" y2="680.4"/>
<line x1="1556.66" y1="55.7" x2="1556.66" y2="680.4"/>
<line x1="1573.52" y1="55.7" x2="1573.52" y2="680.4"/>
<line x1="1590.39" y1="55.7" x2="1590.39" y2="680.4"/>
<line x1="1624.13" y1="55.7" x2="1624.13" y2="680.4"/>
<line x1="1641.00" y1="55.7" x2="1641.00" y2="680.4"/>
<line x1="1657.86" y1="55.7" x2="1657.86" y2="680.4"/>
<line x1="1674.73" y1="55.7" x2="1674.73" y2="680.4"/>
<line x1="848.2" y1="664.78" x2="1691.6" y2="664.78"/>
<line x1="848.2" y1="649.16" x2="1691.6" y2="649.16"/>
<line x1="848.2" y1="633.55" x2="1691.6" y2="633.55"/>
<line x1="848.2" y1="617.93" x2="1691.6" y2="617.93"/>
<line x1="848.2" y1="586.70" x2="1691.6" y2="586.70"/>
<line x1="848.2" y1="571.08" x2="1691.6" y2="571.08"/>
<line x1="848.2" y1="555.46" x2="1691.6" y2="555.46"/>
<line x1="848.2" y1="539.84" x2="1691.6" y2="539.84"/>
<line x1="848.2" y1="508.61" x2="1691.6" y2="508.61"/>
<line x1="848.2" y1="492.99" x2="1691.6" y2="492.99"/>
<line x1="848.2" y1="477.37" x2="1691.6" y2="477.37"/>
<line x1="848.2" y1="461.75" x2="1691.6" y2="461.75"/>
<line x1="848.2" y1="430.52" x2="1691.6" y2="430.52"/>
<line x1="848.2" y1="414.90" x2="1691.6" y2="414.90"/>
<line x1="848.2" y1="399.28" x2="1691.6" y2="399.28"/>
<line x1="848.2" y1="383.67" x2="1691.6" y2="383.67"/>
<line x1="848.2" y1="352.43" x2="1691.6" y2="352.43"/>
<line x1="848.2" y1="336.81" x2="1691.6" y2="336.81"/>
<line x1="848.2" y1="321.20" x2="1691.6" y2="321.20"/>
<line x1="848.2" y1="305.58" x2="1691.6" y2="305.58"/>
<line x1="848.2" y1="274.34" x2="1691.6" y2="274.34"/>
<line x1="848.2" y1="258.73" x2="1691.6" y2="258.73"/>
<line x1="848.2" y1="243.11" x2="1691.6" y2="243.11"/>
<line x1="848.2" y1="227.49" x2="1691.6" y2="227.49"/>
<line x1="848.2" y1="196.26" x2="1691.6" y2="196.26"/>
<line x1="848.2" y1="180.64" x2="1691.6" y2="180.64"/>
<line x1="848.2" y1="165.02" x2="1691.6" y2="165.02"/>
<line x1="848.2" y1="149.41" x2="1691.6" y2="149.41"/>
<line x1="848.2" y1="118.17" x2="1691.6" y2="118.17"/>
<line x1="848.2" y1="102.55" x2="1691.6" y2="102.55"/>
<line x1="848.2" y1="86.94" x2="1691.6" y2="86.94"/>
<line x1="848.2" y1="71.32" x2="1691.6" y2="71.32"/>
</g>
<g fill="none">
<line x1="932.54" y1="55.7" x2="932.54" y2="680.4" stroke="#a4a4a4" stroke-width="0.7"/>
<line x1="1016.88" y1="55.7" x2="1016.88" y2="680.4" stroke="#a4a4a4" stroke-width="0.7"/>
<line x1="1101.22" y1="55.7" x2="1101.22" y2="680.4" stroke="#a4a4a4" stroke-width="0.7"/>
<line x1="1185.56" y1="55.7" x2="1185.56" y2="680.4" stroke="#a4a4a4" stroke-width="0.7"/>
<line x1="1269.90" y1="55.7" x2="1269.90" y2="680.4" stroke="#a4a4a4" stroke-width="0.7"/>
<line x1="1354.24" y1="55.7" x2="1354.24" y2="680.4" stroke="#a4a4a4" stroke-width="0.7"/>
<line x1="1438.58" y1="55.7" x2="1438.58" y2="680.4" stroke="#a4a4a4" stroke-width="0.7"/>
<line x1="1522.92" y1="55.7" x2="1522.92" y2="680.4" stroke="#a4a4a4" stroke-width="0.7"/>
<line x1="1607.26" y1="55.7" x2="1607.26" y2="680.4" stroke="#a4a4a4" stroke-width="0.7"/>
<line x1="848.2" y1="602.31" x2="1691.6" y2="602.31" stroke="#acacac" stroke-width="0.7"/>
<line x1="848.2" y1="524.22" x2="1691.6" y2="524.22" stroke="#acacac" stroke-width="0.7"/>
<line x1="848.2" y1="446.14" x2="1691.6" y2="446.14" stroke="#acacac" stroke-width="0.7"/>
<line x1="848.2" y1="368.05" x2="1691.6" y2="368.05" stroke="#acacac" stroke-width="0.7"/>
<line x1="848.2" y1="289.96" x2="1691.6" y2="289.96" stroke="#acacac" stroke-width="0.7"/>
<line x1="848.2" y1="211.88" x2="1691.6" y2="211.88" stroke="#acacac" stroke-width="0.7"/>
<line x1="848.2" y1="133.79" x2="1691.6" y2="133.79" stroke="#acacac" stroke-width="0.7"/>
</g>
<rect x="1499.00" y="58.00" width="171.00" height="69.00" fill="#fff" />
<g stroke="#000" fill="none">
<line x1="865.07" y1="680.4" x2="865.07" y2="674.40" stroke-width="2.7"/>
<line x1="881.94" y1="680.4" x2="881.94" y2="674.40" stroke-width="2.7"/>
<line x1="898.80" y1="680.4" x2="898.80" y2="674.40" stroke-width="2.7"/>
<line x1="915.67" y1="680.4" x2="915.67" y2="674.40" stroke-width="2.7"/>
<line x1="932.54" y1="680.4" x2="932.54" y2="669.40" stroke-width="2.9"/>
<line x1="949.41" y1="680.4" x2="949.41" y2="674.40" stroke-width="2.7"/>
<line x1="966.28" y1="680.4" x2="966.28" y2="674.40" stroke-width="2.7"/>
<line x1="983.14" y1="680.4" x2="983.14" y2="674.40" stroke-width="2.7"/>
<line x1="1000.01" y1="680.4" x2="1000.01" y2="674.40" stroke-width="2.7"/>
<line x1="1016.88" y1="680.4" x2="1016.88" y2="669.40" stroke-width="2.9"/>
<line x1="1033.75" y1="680.4" x2="1033.75" y2="674.40" stroke-width="2.7"/>
<line x1="1050.62" y1="680.4" x2="1050.62" y2="674.40" stroke-width="2.7"/>
<line x1="1067.48" y1="680.4" x2="1067.48" y2="674.40" stroke-width="2.7"/>
<line x1="1084.35" y1="680.4" x2="1084.35" y2="674.40" stroke-width="2.7"/>
<line x1="1101.22" y1="680.4" x2="1101.22" y2="669.40" stroke-width="2.9"/>
<line x1="1118.09" y1="680.4" x2="1118.09" y2="674.40" stroke-width="2.7"/>
<line x1="1134.96" y1="680.4" x2="1134.96" y2="674.40" stroke-width="2.7"/>
<line x1="1151.82" y1="680.4" x2="1151.82" y2="674.40" stroke-width="2.7"/>
<line x1="1168.69" y1="680.4" x2="1168.69" y2="674.40" stroke-width="2.7"/>
<line x1="1185.56" y1="680.4" x2="1185.56" y2="669.40" stroke-width="2.9"/>
<line x1="1202.43" y1="680.4" x2="1202.43" y2="674.40" stroke-width="2.7"/>
<line x1="1219.30" y1="680.4" x2="1219.30" y2="674.40" stroke-width="2.7"/>
<line x1="1236.16" y1="680.4" x2="1236.16" y2="674.40" stroke-width="2.7"/>
<line x1="1253.03" y1="680.4" x2="1253.03" y2="674.40" stroke-width="2.7"/>
<line x1="1269.90" y1="680.4" x2="1269.90" y2="669.40" stroke-width="2.9"/>
<line x1="1286.77" y1="680.4" x2="1286.77" y2="674.40" stroke-width="2.7"/>
<line x1="1303.64" y1="680.4" x2="1303.64" y2="674.40" stroke-width="2.7"/>
<line x1="1320.50" y1="680.4" x2="1320.50" y2="674.40" stroke-width="2.7"/>
<line x1="1337.37" y1="680.4" x2="1337.37" y2="674.40" stroke-width="2.7"/>
<line x1="1354.24" y1="680.4" x2="1354.24" y2="669.40" stroke-width="2.9"/>
<line x1="1371.11" y1="680.4" x2="1371.11" y2="674.40" stroke-width="2.7"/>
<line x1="1387.98" y1="680.4" x2="1387.98" y2="674.40" stroke-width="2.7"/>
<line x1="1404.84" y1="680.4" x2="1404.84" y2="674.40" stroke-width="2.7"/>
<line x1="1421.71" y1="680.4" x2="1421.71" y2="674.40" stroke-width="2.7"/>
<line x1="1438.58" y1="680.4" x2="1438.58" y2="669.40" stroke-width="2.9"/>
<line x1="1455.45" y1="680.4" x2="1455.45" y2="674.40" stroke-width="2.7"/>
<line x1="1472.32" y1="680.4" x2="1472.32" y2="674.40" stroke-width="2.7"/>
<line x1="1489.18" y1="680.4" x2="1489.18" y2="674.40" stroke-width="2.7"/>
<line x1="1506.05" y1="680.4" x2="1506.05" y2="674.40" stroke-width="2.7"/>
<line x1="1522.92" y1="680.4" x2="1522.92" y2="669.40" stroke-width="2.9"/>
<line x1="1539.79" y1="680.4" x2="1539.79" y2="674.40" stroke-width="2.7"/>
<line x1="1556.66" y1="680.4" x2="1556.66" y2="674.40" stroke-width="2.7"/>
<line x1="1573.52" y1="680.4" x2="1573.52" y2="674.40" stroke-width="2.7"/>
<line x1="1590.39" y1="680.4" x2="1590.39" y2="674.40" stroke-width="2.7"/>
<line x1="1607.26" y1="680.4" x2="1607.26" y2="669.40" stroke-width="2.9"/>
<line x1="1624.13" y1="680.4" x2="1624.13" y2="674.40" stroke-width="2.7"/>
<line x1="1641.00" y1="680.4" x2="1641.00" y2="674.40" stroke-width="2.7"/>
<line x1="1657.86" y1="680.4" x2="1657.86" y2="674.40" stroke-width="2.7"/>
<line x1="1674.73" y1="680.4" x2="1674.73" y2="674.40" stroke-width="2.7"/>
<line x1="848.2" y1="664.78" x2="854.20" y2="664.78" stroke-width="2.7"/>
<line x1="848.2" y1="649.16" x2="854.20" y2="649.16" stroke-width="2.7"/>
<line x1="848.2" y1="633.55" x2="854.20" y2="633.55" stroke-width="2.7"/>
<line x1="848.2" y1="617.93" x2="854.20" y2="617.93" stroke-width="2.7"/>
<line x1="848.2" y1="602.31" x2="859.20" y2="602.31" stroke-width="2.9"/>
<line x1="848.2" y1="586.70" x2="854.20" y2="586.70" stroke-width="2.7"/>
<line x1="848.2" y1="571.08" x2="854.20" y2="571.08" stroke-width="2.7"/>
<line x1="848.2" y1="555.46" x2="854.20" y2="555.46" stroke-width="2.7"/>
<line x1="848.2" y1="539.84" x2="854.20" y2="539.84" stroke-width="2.7"/>
<line x1="848.2" y1="524.22" x2="859.20" y2="524.22" stroke-width="2.9"/>
<line x1="848.2" y1="508.61" x2="854.20" y2="508.61" stroke-width="2.7"/>
<line x1="848.2" y1="492.99" x2="854.20" y2="492.99" stroke-width="2.7"/>
<line x1="848.2" y1="477.37" x2="854.20" y2="477.37" stroke-width="2.7"/>
<line x1="848.2" y1="461.75" x2="854.20" y2="461.75" stroke-width="2.7"/>
<line x1="848.2" y1="446.14" x2="859.20" y2="446.14" stroke-width="2.9"/>
<line x1="848.2" y1="430.52" x2="854.20" y2="430.52" stroke-width="2.7"/>
<line x1="848.2" y1="414.90" x2="854.20" y2="414.90" stroke-width="2.7"/>
<line x1="848.2" y1="399.28" x2="854.20" y2="399.28" stroke-width="2.7"/>
<line x1="848.2" y1="383.67" x2="854.20" y2="383.67" stroke-width="2.7"/>
<line x1="848.2" y1="368.05" x2="859.20" y2="368.05" stroke-width="2.9"/>
<line x1="848.2" y1="352.43" x2="854.20" y2="352.43" stroke-width="2.7"/>
<line x1="848.2" y1="336.81" x2="854.20" y2="336.81" stroke-width="2.7"/>
<line x1="848.2" y1="321.20" x2="854.20" y2="321.20" stroke-width="2.7"/>
<line x1="848.2" y1="305.58" x2="854.20" y2="305.58" stroke-width="2.7"/>
<line x1="848.2" y1="289.96" x2="859.20" y2="289.96" stroke-width="2.9"/>
<line x1="848.2" y1="274.34" x2="854.20" y2="274.34" stroke-width="2.7"/>
<line x1="848.2" y1="258.73" x2="854.20" y2="258.73" stroke-width="2.7"/>
<line x1="848.2" y1="243.11" x2="854.20" y2="243.11" stroke-width="2.7"/>
<line x1="848.2" y1="227.49" x2="854.20" y2="227.49" stroke-width="2.7"/>
<line x1="848.2" y1="211.88" x2="859.20" y2="211.88" stroke-width="2.9"/>
<line x1="848.2" y1="196.26" x2="854.20" y2="196.26" stroke-width="2.7"/>
<line x1="848.2" y1="180.64" x2="854.20" y2="180.64" stroke-width="2.7"/>
<line x1="848.2" y1="165.02" x2="854.20" y2="165.02" stroke-width="2.7"/>
<line x1="848.2" y1="149.41" x2="854.20" y2="149.41" stroke-width="2.7"/>
<line x1="848.2" y1="133.79" x2="859.20" y2="133.79" stroke-width="2.9"/>
<line x1="848.2" y1="118.17" x2="854.20" y2="118.17" stroke-width="2.7"/>
<line x1="848.2" y1="102.55" x2="854.20" y2="102.55" stroke-width="2.7"/>
<line x1="848.2" y1="86.94" x2="854.20" y2="86.94" stroke-width="2.7"/>
<line x1="848.2" y1="71.32" x2="854.20" y2="71.32" stroke-width="2.7"/>
</g>
<polyline fill="none" stroke="#525252" stroke-width="3.2" points="910.40,617.93 969.45,617.93 1028.50,617.93 1087.55,617.93 1146.60,617.93 1205.65,617.93 1264.70,617.93 1323.75,617.93 1382.80,617.93 1441.85,633.55 1500.90,617.93 1559.95,617.93 1619.00,617.93"/>
<rect x="902.50" y="610.03" width="15.80" height="15.80" fill="#525252" />
<rect x="961.55" y="610.03" width="15.80" height="15.80" fill="#525252" />
<rect x="1020.60" y="610.03" width="15.80" height="15.80" fill="#525252" />
<rect x="1079.65" y="610.03" width="15.80" height="15.80" fill="#525252" />
<rect x="1138.70" y="610.03" width="15.80" height="15.80" fill="#525252" />
<rect x="1197.75" y="610.03" width="15.80" height="15.80" fill="#525252" />
<rect x="1256.80" y="610.03" width="15.80" height="15.80" fill="#525252" />
<rect x="1315.85" y="610.03" width="15.80" height="15.80" fill="#525252" />
<rect x="1374.90" y="610.03" width="15.80" height="15.80" fill="#525252" />
<rect x="1433.95" y="625.65" width="15.80" height="15.80" fill="#525252" />
<rect x="1493.00" y="610.03" width="15.80" height="15.80" fill="#525252" />
<rect x="1552.05" y="610.03" width="15.80" height="15.80" fill="#525252" />
<rect x="1611.10" y="610.03" width="15.80" height="15.80" fill="#525252" />
<polyline fill="none" stroke="#e83030" stroke-width="2.9" points="910.40,227.49 969.45,211.88 1028.50,211.88 1087.55,211.88 1146.60,211.88 1205.65,211.88 1264.70,196.26 1323.75,180.64 1382.80,196.26 1441.85,196.26 1500.90,196.26 1559.95,196.26 1619.00,258.73"/>
<circle cx="910.40" cy="227.49" r="9.1" fill="#e83030"/>
<circle cx="969.45" cy="211.88" r="9.1" fill="#e83030"/>
<circle cx="1028.50" cy="211.88" r="9.1" fill="#e83030"/>
<circle cx="1087.55" cy="211.88" r="9.1" fill="#e83030"/>
<circle cx="1146.60" cy="211.88" r="9.1" fill="#e83030"/>
<circle cx="1205.65" cy="211.88" r="9.1" fill="#e83030"/>
<circle cx="1264.70" cy="196.26" r="9.1" fill="#e83030"/>
<circle cx="1323.75" cy="180.64" r="9.1" fill="#e83030"/>
<circle cx="1382.80" cy="196.26" r="9.1" fill="#e83030"/>
<circle cx="1441.85" cy="196.26" r="9.1" fill="#e83030"/>
<circle cx="1500.90" cy="196.26" r="9.1" fill="#e83030"/>
<circle cx="1559.95" cy="196.26" r="9.1" fill="#e83030"/>
<circle cx="1619.00" cy="258.73" r="9.1" fill="#e83030"/>
<polygon fill="#4469b5" points="1323.7,206.9 1337.4,234 1328.7,234 1329.5,559 1338.4,559 1325.2,585.9 1311.5,559 1320.3,559 1319.5,234 1310.3,234"/>
<rect x="848.2" y="55.7" width="843.40" height="624.70" fill="none" stroke="#000" stroke-width="2.8"/>
<line x1="1501.60" y1="75.10" x2="1562.90" y2="75.10" stroke="#525252" stroke-width="3.2" />
<rect x="1524.10" y="67.20" width="15.80" height="15.80" fill="#525252" />
<line x1="1503.00" y1="107.20" x2="1561.00" y2="107.20" stroke="#e83030" stroke-width="2.9" />
<circle cx="1532" cy="107.2" r="9.1" fill="#e83030"/>
<text transform="translate(1570.00,86.00) scale(1.0721,1)" x="-1.02 19.30 35.64 59.42 74.99" font-family='"Liberation Serif", serif' font-size="33.74" fill="#000">Lower</text>
<text transform="translate(1572.30,116.90) scale(1.1750,1)" x="-1.31 21.94 38.70 54.66 69.04" font-family='"Liberation Serif", serif' font-size="32.52" fill="#000">Upper</text>
<text transform="translate(785.02,68.97) scale(1.0839,1)" font-family='"Liberation Serif", serif' font-size="33.48" fill="#000">150</text>
<text transform="translate(785.02,146.61) scale(1.0839,1)" font-family='"Liberation Serif", serif' font-size="33.48" fill="#000">140</text>
<text transform="translate(785.02,224.25) scale(1.0839,1)" font-family='"Liberation Serif", serif' font-size="33.48" fill="#000">130</text>
<text transform="translate(785.02,301.89) scale(1.0839,1)" font-family='"Liberation Serif", serif' font-size="33.48" fill="#000">120</text>
<text transform="translate(785.02,379.53) scale(1.0839,1)" font-family='"Liberation Serif", serif' font-size="33.48" fill="#000">110</text>
<text transform="translate(785.02,457.17) scale(1.0839,1)" font-family='"Liberation Serif", serif' font-size="33.48" fill="#000">100</text>
<text transform="translate(803.94,534.81) scale(1.0598,1)" font-family='"Liberation Serif", serif' font-size="33.48" fill="#000">90</text>
<text transform="translate(803.57,612.45) scale(1.0713,1)" font-family='"Liberation Serif", serif' font-size="33.48" fill="#000">80</text>
<text transform="translate(802.60,690.09) scale(1.1013,1)" font-family='"Liberation Serif", serif' font-size="33.48" fill="#000">70</text>
<text transform="translate(831.95,715.98) scale(1.1465,1)" font-family='"Liberation Serif", serif' font-size="32.30" fill="#000">10</text>
<text transform="translate(916.24,716.30) scale(1.1406,1)" font-family='"Liberation Serif", serif' font-size="33.03" fill="#000">12</text>
<text transform="translate(1000.72,716.30) scale(1.0899,1)" font-family='"Liberation Serif", serif' font-size="33.03" fill="#000">14</text>
<text transform="translate(1085.01,715.97) scale(1.1252,1)" font-family='"Liberation Serif", serif' font-size="32.54" fill="#000">16</text>
<text transform="translate(1169.31,715.98) scale(1.1465,1)" font-family='"Liberation Serif", serif' font-size="32.30" fill="#000">18</text>
<text transform="translate(1255.21,715.98) scale(1.0964,1)" font-family='"Liberation Serif", serif' font-size="32.30" fill="#000">20</text>
<text transform="translate(1339.52,716.30) scale(1.0899,1)" font-family='"Liberation Serif", serif' font-size="33.03" fill="#000">22</text>
<text transform="translate(1423.93,716.30) scale(1.0435,1)" font-family='"Liberation Serif", serif' font-size="33.03" fill="#000">24</text>
<text transform="translate(1508.24,715.97) scale(1.0765,1)" font-family='"Liberation Serif", serif' font-size="32.54" fill="#000">26</text>
<text transform="translate(1592.57,715.98) scale(1.0964,1)" font-family='"Liberation Serif", serif' font-size="32.30" fill="#000">28</text>
<text transform="translate(1676.91,715.98) scale(1.0964,1)" font-family='"Liberation Serif", serif' font-size="32.30" fill="#000">30</text>
<text transform="translate(1349.75,419.80) scale(1.0773,1)" font-family='"Liberation Serif", serif' font-size="33.24" fill="#000">56%</text>
<text transform="translate(859.37,37.61) scale(1.1114,1)" font-family='"Liberation Serif", serif' font-size="30.66" fill="#000">(b)</text>
<text transform="translate(1135.70,754.60) scale(1.2000,1)" x="-0.03 18.94 29.57 43.09 59.14 74.82 88.75 104.43 117.95 134.67 144.01 155.29 178.01 200.06 214.14" font-family='"Liberation Serif", serif' font-size="31.76" fill="#000">Frequency (GHz)</text>
<text transform="translate(764.80,459.10) rotate(-90) scale(1.1764,1)" x="-1.40 27.16 42.39 53.20 68.48 77.53 94.45 104.84 131.34" font-family='"Liberation Serif", serif' font-size="32.21" fill="#000">Margin(%)</text>
</svg>
</body></html>
